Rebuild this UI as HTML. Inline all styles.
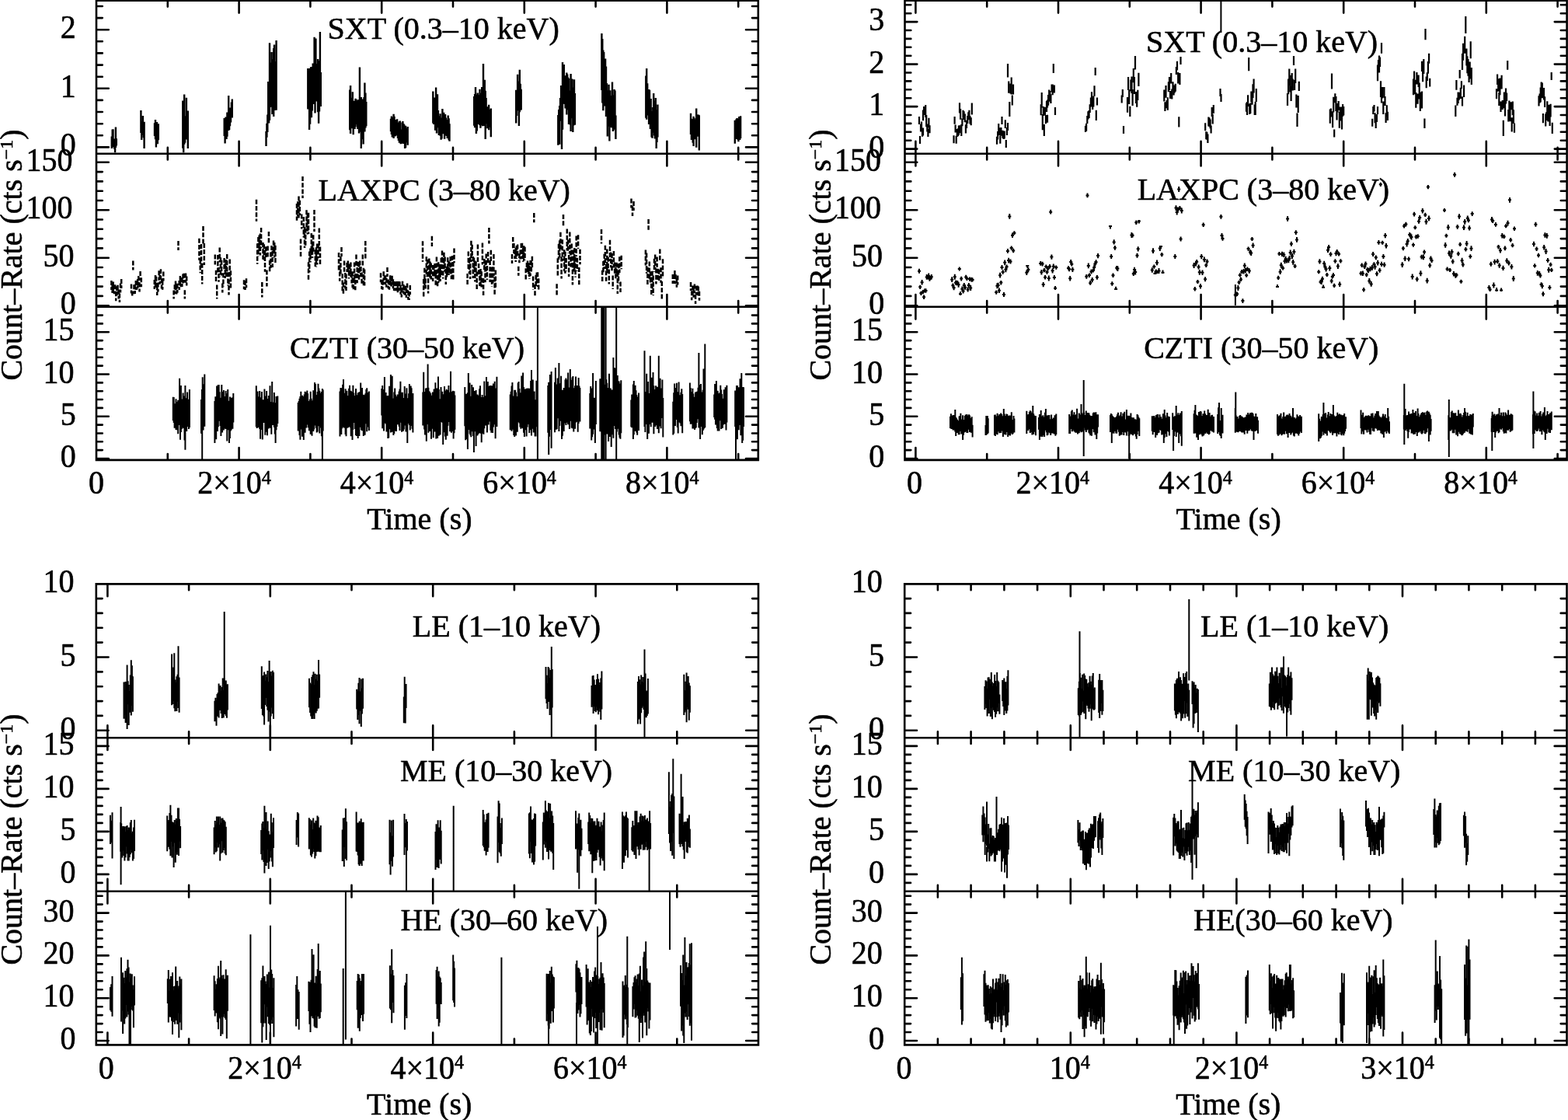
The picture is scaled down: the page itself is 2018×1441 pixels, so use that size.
<!DOCTYPE html>
<html><head><meta charset="utf-8"><title>Light curves</title>
<style>html,body{margin:0;padding:0;background:#fff;}svg{display:block;}</style>
</head><body>
<svg xmlns="http://www.w3.org/2000/svg" width="2018" height="1441" viewBox="0 0 2018 1441" font-family="Liberation Serif, Times New Roman, serif">
<rect width="2018" height="1441" fill="#fff"/>
<path d="M143.8 175.5V191M144.7 166.5V189.2M145.5 166.3V189.2M146.4 179.6V189.5M147.2 178.5V191.7M148.1 180.1V196.3M148.9 163.6V189.9M149.8 178.2V187.5M181.4 141.9V170.9M182.2 157.4V180.1M183.1 156V171.1M183.9 148.9V173.9M184.8 157.9V177.2M185.6 156.8V191M199 158.3V175M200 154V179.2M200.9 157.7V189.6M201.9 157.1V173.7M202.8 161V185.3M203.8 159.3V180.3M235.3 129.5V190.8M236.2 146.4V196.3M237.2 121.4V185.7M238.1 160.8V183.8M239 149.2V172.4M239.9 125.7V179.4M240.9 156.7V178.3M241.8 142.5V190.9M288.7 152.1V174.9M289.6 153.3V184.5M290.5 150.5V177.6M291.5 154.1V179M292.4 144.4V175.8M293.3 147.3V167M294.2 123V168M295.1 142.7V167M296 138.4V162.3M297 138.5V157.5M297.9 131.6V149.2M298.8 127.5V151.6M342.5 169.1V188M343.4 158.8V176.7M344.3 147.4V169.9M345.2 105V156.6M346.1 124.3V158.6M347 116.9V154.8M347 55.3V120.5M347.9 80.5V138M348.7 82V137M349.6 67.1V128.3M350.4 76.3V147.1M351.3 89.1V128.5M352.2 61.9V150M353 57.4V127.6M353.9 79V141.9M354.7 80.5V134.3M355.6 52V141.7M396.3 88.1V140.4M397.2 92.7V135.4M398.1 88.1V167M399.1 96.5V159.7M400 86.3V124.3M400.9 86V151.2M401.8 90.3V142.5M402.7 81.4V126.9M403.6 87.9V133.9M404.6 47.7V119.7M405.5 80.2V145.5M406.4 49.6V120.5M407.3 84.7V130.4M408.2 82V122.2M409.1 75.9V144.2M410.1 110V158.7M411 78.2V143.6M411.9 41V133.2M412.8 93V137.1M450.2 115.5V167.2M451.1 110V172.1M452 127V165.3M452.9 125.8V165.2M453.8 118.2V164.7M454.7 138.2V173.3M455.6 129.8V154.1M456.6 133.7V166M457.5 126.8V163.3M458.4 127.7V157.5M459.3 129.5V160.3M460.2 137.6V165.9M461.1 128.2V161.8M462 140.4V171.6M462 130.1V158.6M462.9 86.6V169.7M463.9 134.4V166.2M464.8 125V191M465.7 134.4V166.7M466.6 127.5V179.3M467.6 136V185.4M468.5 124.9V165.3M469.4 106.5V169.5M470.4 119.6V164.6M471.3 131.1V162.2M503 152.8V169.2M503.9 149.6V173.1M504.8 156.7V176.4M505.7 151.1V171M506.6 146.7V177.9M507.5 149.7V170.6M508.4 154.1V175.4M509.3 153.9V174.8M510.2 156.1V171.2M511.1 153.3V173.7M512 157.7V177.9M512.9 158V180.9M513.9 156.3V183.7M514.8 155.5V181M515.7 168.3V185.2M516.6 166.6V185M517.5 157.6V183.8M518.4 155.9V179.7M519.3 159V185.1M520.2 160.2V180.3M521.1 164.1V191M522 161.8V190.2M522.9 164.7V182.6M523.8 166.2V183.4M524.7 162.9V186.7M557.3 117.4V158.4M558.2 128V160.1M559.2 125.6V158.6M560.1 129.4V167.7M561.1 112.4V158.9M562 133.7V171.6M563 121.2V151.3M563 147V163.1M563.9 141.9V164.2M564.8 149.3V174M565.7 153.6V170.1M566.6 146.2V174.7M567.6 151.4V179.7M568.5 152.5V178.5M569.4 140V164.3M570.3 155.5V172.3M571.2 144.7V159.8M572.1 156.8V178.7M573 147V174.6M573.9 151.5V170.5M574.9 155.3V175.1M575.8 153.9V177.9M576.7 148.6V173.9M577.6 152.2V180.2M578.5 159.3V181.7M610.2 124.1V161.8M611.1 121.1V164.2M612 112V151.3M612.9 121.7V172M613.8 128.7V168.4M614.7 119.4V152.6M615.6 125.4V160M616.6 122.3V152.7M617.5 114.8V161.1M618.4 119.8V164.8M619.3 134V161M620.2 112V155.1M621.1 116.5V162.3M622 129.6V161.8M622 82V160M622.9 105.2V162M623.8 102.7V159.9M624.7 116.7V179M625.6 126.1V151.8M626.5 137.3V159.2M627.3 137.3V165.3M628.2 139.2V160.5M629.1 134.8V167.3M630 142V163.8M630.9 140.9V163.7M631.8 139.6V176.2M664.2 115.8V158.6M665.1 123.4V148.9M666.1 95.7V142.5M667 104.5V133.9M667.9 113.6V162M668.8 89.7V144.3M669.8 107.8V141.7M670.7 114.8V141.6M718.3 147.9V186.8M719.2 140.9V172.4M720.2 135.9V185.8M721.1 126V155.7M722.1 110V154.7M723 114.8V192M724 124.6V166.7M724 80V140.5M724.9 95.3V132.8M725.8 83V133.6M726.7 97.9V133.9M727.6 102.5V139.4M728.4 97.1V135.3M729.3 93.5V147.5M730.2 95.5V141.6M731.1 99.6V139.6M732 101V160M732 115.5V152.8M732.9 116.4V156.2M733.8 116.7V160.5M734.6 95V169M735.5 115.5V152.3M736.4 101.6V142.9M737.3 127.6V170M738.1 112.6V161.5M739 102.3V158.2M739.9 120.1V160.7M774.4 43V116.1M775.3 50V132.5M776.3 64.5V142.3M777.2 67V136.5M778.1 91.3V136.6M779.1 75.6V116.6M780 85.4V150M780 90V146.7M780.9 107V149M781.8 116.2V175.4M782.7 123.7V162.8M783.5 108.8V160.8M784.4 129.4V181.5M785.3 116.2V161.6M786.2 127.6V163.8M787.1 123V164.2M788 105.6V156.1M788.9 122.3V169.1M789.7 132.4V167.4M790.6 115V166.1M791.5 116.4V158.4M792.4 148.5V178.9M831.3 97.5V151.8M832.2 88V153.8M833.2 107.2V148.5M834.1 117.7V144.8M835.1 115.1V160M836 115.7V153M836 136.3V159.3M836.9 140.4V166.1M837.7 126.9V154.7M838.6 143.2V176.6M839.5 143.4V177.7M840.3 138V170.8M841.2 120V168.8M842.1 144.4V174.5M842.9 129.4V178.6M843.8 126V161.8M844.7 151.9V190.9M845.5 141.2V183M846.4 134.6V176.4M889 145.8V172.9M889.9 152.7V179.9M890.8 153.3V174.9M891.7 154V183.7M892.6 149.8V188.1M893.5 151.7V175.1M894.4 156.9V179.2M895.3 153.6V171.2M896.2 139.4V189.7M897.1 147.2V170.2M898 155.7V175.8M898.9 147.4V169.6M899.8 148.3V193.4M945.8 154.7V184.7M946.7 155.6V177.1M947.6 153.2V178.9M948.5 152V170.1M949.5 152.4V179.7M950.4 160.3V182.2M951.3 150V172.9M952.2 153.1V179.9M953.1 149.2V177.9" stroke="#000" stroke-width="2.4" fill="none" stroke-linecap="butt"/>
<path d="M143.4 361V373M144.6 365V377M145.7 362.4V374.4M146.9 366.3V378.3M148.1 366.3V378.3M149.2 375.3V387.3M150.4 368.2V380.2M151.5 366.7V378.7M152.7 372.5V384.5M153.9 377.5V389M155 364.4V376.4M156.2 359V371M169 365.4V377.4M170.2 374.5V382.5M171.3 335.6V347.6M172.5 366.3V378.3M173.7 365.9V377.9M174.8 361.1V373.1M176 361V373M177.1 359V371M178.3 354.9V366.9M179.5 363.4V375.4M180.6 349V361M181.8 357.2V369.2M198.8 360.1V372.1M200 354.1V368.3M201.1 355.8V370.1M202.2 367.4V380M203.4 363.5V375.5M204.6 348.3V360.8M205.7 353.8V365.8M206.9 346.2V359.7M208 358.2V371.6M209.2 360.7V372.7M210.3 349.5V361.5M223.6 373.6V384.6M224.8 366.3V378.3M226 361.6V373.6M227.2 366.4V378.4M228.3 364.7V376.7M229.5 310V322M230.7 361V373M231.9 355.1V367.8M233.1 357.2V369.2M234.3 356.9V369.1M235.5 352.6V364.6M236.6 351.7V363.7M237.8 373.2V384.6M239 351.6V363.8M240.2 355.4V367.4M256.4 306.8V334.8M257.7 333.4V351.3M259 313.9V341.9M260.2 338.7V365.5M261.5 291V314.5M262.8 312.9V340.9M276.8 327.4V340.4M278 347.7V362.2M279.2 366.4V384.6M280.3 328V350.5M281.5 343.9V362.8M282.7 318.6V337.5M283.9 331.2V356.3M285.1 334.8V354.6M286.3 364.5V376.5M287.4 351.3V368.6M288.6 332.1V346.3M289.8 338.7V358M291 333.9V356M292.2 327.1V353.2M293.4 350.2V367.6M294.5 359.4V379.6M295.7 333.6V356.5M296.9 348.2V370.4M314 360.2V372.2M315.5 361V373M317 358.3V370.3M330 256.8V284.8M331.2 313.3V339.7M332.4 304.9V330M333.7 302.5V323.2M334.9 300.5V328.5M336.1 293.1V319.3M337.3 363V382.5M338.5 312.1V333.8M339.8 314.3V334.6M341 321.7V349.7M342.2 317.2V331.1M343.4 347.5V368.6M344.6 316.6V330.6M345.9 298V313.8M347.1 335.1V350.5M348.3 324.5V345.1M349.5 316.1V336.4M350.7 322.8V344.1M352 309.4V324.4M353.2 312.1V331.5M354.4 315.7V338.5M382 262V283.8M383.2 259.2V278.2M384.5 252.4V280.4M385.8 257.8V277.1M387 307.6V330M388.2 275.6V294.4M389.5 227V255M390.8 279.1V305.4M392 292V319.1M393.2 293.7V315.8M394.5 270.2V297.4M395.8 275V301.4M397 273.8V301.1M397 337.3V361M398.2 323.4V350.4M399.5 319.6V337.4M400.8 300V328M402 313.5V332M403.2 302.2V323.8M404.5 270V298M405.8 321.2V342.9M407 318.2V343.4M408.2 313.4V340.6M409.5 313.4V332.2M410.8 293.6V321.6M412 317.6V341.3M436 325.1V347.6M437.2 341.3V361.8M438.4 330V353.2M439.5 317.9V329.9M440.7 352.2V374.3M441.9 363.5V378M443.1 335.5V349.9M444.3 351.1V371.4M445.5 352.5V373.9M446.6 338V350M447.8 335.6V349.9M449 340.5V358.5M450.2 339.4V354.6M451.4 337.4V356.2M452.6 351.5V364.5M453.7 349.3V370.3M454.9 358V373.6M456.1 337.4V360.8M457.3 351.9V373.3M458.5 327.5V343.2M459.7 343.9V364.3M460.8 336.7V356.6M462 337.4V360M463.2 335.5V350.4M464.4 342.9V356.3M465.6 350.6V365.4M466.8 327.4V342.3M467.9 344.8V368.7M469.1 346.4V367.4M470.3 310V333.3M490 351.2V363.2M491.2 359.8V372.1M492.4 360.8V372.8M493.7 349.3V361.3M494.9 354.2V366.2M496.1 354.3V366.3M497.3 357.7V369.7M498.5 344V356M499.8 359.6V371.6M501 360.8V372.8M502.2 354.2V366.2M503.4 356.5V368.5M504.6 354.8V366.8M505.9 359.3V371.3M507.1 362V374M508.3 362.2V374.2M509.5 362.2V374.2M510.7 361.9V373.9M511.9 364.2V376.2M513.2 362.1V374.1M514.4 362.3V374.3M515.6 366.8V378.8M516.8 370.4V382.4M518 361.7V373.7M519.3 366V378M520.5 367.4V379.4M521.7 367.7V379.7M522.9 371V383M524.1 364.5V376.5M525.4 373.7V385.7M526.6 375.6V386M527.8 367.1V379.1M544 310.3V336.7M545.2 359V382.5M546.4 344.7V369.4M547.6 358.4V371.6M548.8 330.3V355.4M550 333.8V357.4M551.1 350V377.6M552.3 332.6V352.9M553.5 336.4V357.4M554.7 338.6V359.6M555.9 303.7V316.9M557.1 341.1V361.9M558.3 341.2V356.3M559.5 339V355.3M560.7 352.6V369M561.9 330.4V357.6M563.1 354.1V369.7M564.2 337.3V363.9M565.4 339.8V364.4M566.6 342.6V361.9M567.8 331.7V354.5M569 322.5V337.9M570.2 332.1V358.5M571.4 324.7V346.2M572.6 330.5V349.8M573.8 346.1V366M575 342.7V356.4M576.2 331.2V354.2M577.4 335.4V354M578.5 336.8V351.1M579.7 330V352.7M580.9 346.2V359.2M582.1 328.9V354.7M583.3 337.1V361.7M584.5 319.5V338.3M601.6 351.9V366.9M602.8 323.5V347.8M604 332.8V352.3M605.2 331.1V359.1M606.4 309.7V336.9M607.6 314.7V331.9M608.8 330.1V358.1M610 331.4V350.6M611.3 335.6V362.6M612.5 336.4V352.1M613.7 349.5V372.5M614.9 314.5V338.3M616.1 339.1V355.7M617.3 347V367.9M618.5 345.9V368.5M619.7 349.3V369.5M620.9 312.4V340.4M622.1 358V380M623.3 333V349.8M624.5 335.2V363.2M625.7 326.6V354.6M626.9 342.1V360M628.1 324V340.4M629.4 293V313.5M630.6 335V363M631.8 321.7V336M633 343.4V368.6M634.2 343.3V364.5M635.4 327V355M636.6 356.4V380M637.8 347.4V372M659 326.9V338.9M660.2 305.1V320.1M661.4 313.1V326M662.5 321.1V333.1M663.7 318.4V337M664.9 315.9V333M666.1 314.6V331.1M667.3 342.8V354.8M668.4 326.3V338.3M669.6 321.5V333.5M670.8 313V325.3M672 312.8V333.2M673.2 319.1V336.7M674.3 316.2V335.6M675.5 317.8V334.8M676.7 345.3V359.7M677.9 338.1V350.1M679 335.5V350.1M680.2 338.2V355.2M681.4 341.8V358.9M682.6 335V354.9M683.8 335.3V351.4M684.9 329.7V346M686.1 355.5V372.5M687.3 274V286.2M688.5 366V382.5M689.7 353.7V369.7M690.8 350.5V363.8M692 350.3V368.9M693.2 358.3V372.4M716.6 365.3V380M717.8 332.2V356.1M719 313.8V334.1M720.2 309.2V331.7M721.4 298.7V322M722.6 330.6V358.6M723.8 308.2V335.7M725 276V291.9M726.2 321.2V349.2M727.4 323.7V351.7M728.6 331.9V348.9M729.8 294.5V322.4M731 308.5V325.5M732.1 328V356M733.3 298.4V326.4M734.5 322.5V343.4M735.7 313.4V341.4M736.9 338.5V366.5M738.1 321.4V349.4M739.3 319.1V347.1M740.5 330.8V356.8M741.7 303.6V330.1M742.9 331.8V348.9M744.1 302.3V319.9M745.3 344V366.3M746.5 320.7V340.3M774 295V313.5M775.2 347.8V364.1M776.4 336V350.8M777.7 326.7V346.1M778.9 315.8V340.3M780.1 340.1V361.7M781.3 320.5V348M782.6 330.7V351.6M783.8 346.5V365.4M785 308.7V335.9M786.2 324.6V344.3M787.5 325.9V350.3M788.7 354.4V371.9M789.9 323V344.5M791.1 337.5V353.9M792.4 344V358.4M793.6 337.7V355.6M794.8 350V378M796 339.2V364.6M797.3 330.2V351M798.5 362.6V375.9M799.7 328.7V346.2M812.5 255.5V267.5M814 265.2V278M815.5 259V271M830.9 321.4V341.6M832.1 325.5V351.8M833.4 343.7V366.9M834.6 282V295.8M835.8 336.4V359M837 349.2V363.8M838.3 356.5V379.8M839.5 348.8V374.7M840.7 354.6V380.2M842 332.7V349.8M843.2 327.6V346.4M844.4 345.5V365.4M845.6 330.5V343.8M846.9 345.7V360.6M848.1 346.8V362.7M849.3 320.6V334.9M850.5 344.2V363.8M851.8 362V384.6M853 333.2V357.9M865.8 353V365M867.1 352.9V364.9M868.4 348V356.2M869.6 353.2V365.2M870.9 357.8V369.8M872.2 354.5V366.5M889 363V373.9M890.2 374.3V386.3M891.4 367.5V379.5M892.7 370.8V382.8M893.9 365.5V377.5M895.1 379V391M896.3 367.8V379.8M897.6 367.4V379.4M898.8 368.6V380.6M900 374.7V386.7" stroke="#000" stroke-width="2.5" fill="none" stroke-linecap="butt" stroke-dasharray="6 2.2" stroke-linejoin="round"/>
<path d="M222.8 510.7V541.2M223.7 511.1V544M224.6 520.4V550.7M225.6 519.2V548.1M226.5 513.2V552.9M227.4 518.6V553.3M228.3 516.9V545.3M229.2 514.8V558.3M230.1 515.1V546.7M231.1 486.8V547.1M232 506.2V565.8M232.9 496V556M233.8 518.4V551.9M234.7 513.6V547.2M235.6 505.5V550.5M236.6 514.4V551.2M237.5 509.5V566.5M238.4 496.1V578.7M239.3 514V554.4M240.2 512.2V555M241.1 504.6V544.6M242.1 513.7V549M243 519.3V552M243.9 500.9V550.1M259 514V557.7M259.9 500.9V546.6M260.7 485.2V547.2M261.6 494.2V553.5M262.4 498.3V547.5M263.3 481.5V548.8M260.2 530V592M276.4 516V570M277.3 510.3V553.9M278.2 511.9V565.3M279.1 496.6V551.3M279.9 519.2V555M280.8 495V549.2M281.7 495V536.8M282.6 504.3V541.7M283.5 513.9V547.9M284.4 511.7V560.9M285.3 495V547M286.1 516.5V556.5M287 504V553.2M287.9 502V553.4M288.8 509.9V544.7M289.7 512.3V551.6M290.6 503.1V552.1M291.4 506.2V542.4M292.3 511.5V567.4M293.2 501.1V532.9M294.1 520.3V553.3M295 515.8V570M295.9 510.4V563.9M296.8 511.6V554.6M297.6 512.1V553.2M298.5 513.3V545M299.4 511.3V551.7M300.3 506.1V543.6M329.8 496.2V549.2M330.7 508.5V550.9M331.6 503.6V541.8M332.5 518.4V550.1M333.3 510.2V538.6M334.2 502.9V552M335.1 511.2V564.8M336 511.9V552.9M336.9 503.9V543.4M337.8 515.4V565.4M338.7 514.2V544M339.6 514.2V543.9M340.4 500.6V543.2M341.3 515.4V559.8M342.2 509.6V555.8M343.1 502.9V552.5M344 513.6V560.2M344.9 512.9V550.4M345.8 509.1V551.5M346.7 515.5V548.7M347.5 496.3V550.2M348.4 517V551.1M349.3 518.9V558.8M350.2 491V537.4M351.1 518.2V547M352 517.5V546.5M352.9 504.9V549.8M353.8 519.4V558.5M354.6 518.2V570M355.5 510V553.3M356.4 510.5V549.1M357.3 509.6V545M383.7 518V554.5M384.6 515.9V550.3M385.5 512.8V559.9M386.4 510V565.7M387.3 503.8V550M388.1 510.9V552.4M389 508.7V561.8M389.9 511V542.9M390.8 509.9V566M391.7 507.4V554.4M392.6 503.7V556.8M393.5 504.8V545.7M394.4 507.6V550.5M395.3 502.4V546.4M396.1 506.2V542.9M397 517.7V550.3M397.9 515.9V554.3M398.8 513.8V551.1M399.7 503.7V558.8M400.6 512.8V549.6M401.5 515.2V560.8M402.4 519.9V554.3M403.3 502.3V555M404.1 504.4V552.5M405 491.9V546.5M405.9 493.9V547.4M406.8 508.1V550.7M407.7 508V556.6M408.6 503.9V555.4M409.5 493.8V548.2M410.4 499.6V543.5M411.3 502.8V557.5M412.1 505.8V545.3M413 515.7V550.5M413.9 503.9V561.2M414.8 517.3V566M415.7 501.4V554.6M414.9 500V592M437.5 503.5V561.4M438.4 499V558.6M439.3 499.2V558.9M440.2 500.6V551.2M441.1 494.8V549.5M442 488V543.4M442.8 516.4V550.4M443.7 505.7V548M444.6 500.2V558.9M445.5 506.6V561.2M446.4 502.8V550.9M447.3 509.1V549M448.2 509.9V550.2M449.1 499.8V548.9M450 495.8V545M450.9 504V550.2M451.7 502.7V561.2M452.6 503.9V542.5M453.5 507.7V566M454.4 495.7V552.7M455.3 505.6V543.5M456.2 508.9V544M457.1 517V551.9M458 500.1V559.9M458.9 515.2V561M459.8 508.2V554M460.7 505.5V563.9M461.5 504.8V556.8M462.4 515V561M463.3 504V549.8M464.2 492.4V542.4M465.1 499V553.3M466 499.1V554.3M466.9 513.6V551.3M467.8 507.8V560.9M468.7 509.1V557.6M469.6 508.3V559.7M470.4 506.3V545.3M471.3 501V542.8M472.2 499.2V555.3M473.1 516.4V549.6M474 505V540.8M474.9 503.6V554.1M491.3 500V534.4M492.2 495.9V551.2M493.1 516.8V548.9M494 501V554.6M494.9 485V544.4M495.8 510.2V543.8M496.6 504.9V545.4M497.5 509.3V555.4M498.4 511.8V553.4M499.3 508.9V563.9M500.2 513.3V563.5M501.1 496.7V540.5M502 496.7V552.3M502.9 482V556.6M503.8 498.2V547.3M504.7 483.8V555.7M505.6 513.2V545.1M506.4 512.5V560M507.3 504.4V557.9M508.2 499.6V554.6M509.1 507.8V541.9M510 520.6V554.9M510.9 509.9V542M511.8 507.6V546.2M512.7 509.1V542.5M513.6 503.4V548.7M514.5 500.5V554M515.4 490.8V542M516.3 504.7V543.8M517.1 507V555.8M518 504.7V552M518.9 514.5V554.7M519.8 512.1V552.4M520.7 497V547.4M521.6 506.6V540M522.5 512.2V555.4M523.4 499.2V542.6M524.3 514.1V570M525.2 512.2V544.9M526.1 506.3V537.1M526.9 494.1V547.1M527.8 498.8V553.5M528.7 496.4V547.9M529.6 499.2V545.3M530.5 507V551.7M531.4 506.1V556.5M544.3 504.4V547.5M545.2 478.8V538.3M546.1 503.9V552.4M547 509.8V559.4M547.9 499.4V547.3M548.8 510.6V567.8M549.7 498.9V545.8M550.6 468.5V546.1M551.4 498.8V556.8M552.3 503.3V552.7M553.2 504.2V555M554.1 506V546.5M555 512.4V564.7M555.9 508.8V551.7M556.8 504.5V550.4M557.7 506.3V563.3M558.6 500.4V550.8M559.5 512.9V555.5M560.4 492.3V534.5M561.3 519.8V564.6M562.2 499.5V558.8M563.1 505.4V564M564 484.5V532.9M564.8 501.1V560.8M565.7 513.3V554.5M566.6 524V559.5M567.5 498V543.1M568.4 509V542.8M569.3 503.8V543.7M570.2 507.3V572M571.1 510.1V549.2M572 497.1V556.3M572.9 502.6V561.6M573.8 507.7V565.7M574.7 500.7V547.9M575.6 502.1V560.8M576.5 504.8V547.8M577.4 496.1V540.7M578.3 504.8V543.1M579.1 509.4V555.3M580 477.8V543.4M580.9 507.7V556.7M581.8 503.9V555.1M582.7 502.7V546.7M583.6 507.4V564.4M584.5 503.3V557.2M585.4 508.5V552.7M598.3 498.1V548.2M599.2 507.9V566.2M600.1 506.8V547.8M601 509.9V564.9M601.9 505.3V577.9M602.8 480V547.8M603.7 504.6V553.1M604.6 492.4V558.3M605.4 521.5V560M606.3 509.8V562.2M607.2 495.1V539.9M608.1 505V555.3M609 498.2V561.1M609.9 504.5V582M610.8 503V555.3M611.7 508.4V553.9M612.6 502.1V574M613.5 509.2V545.7M614.4 507.5V560.4M615.3 508.7V558.7M616.2 518.4V557.6M617.1 500.2V557.3M618 496.2V535.4M618.8 511V557.8M619.7 514.7V569.3M620.6 507.9V554.2M621.5 510.9V557.8M622.4 518.8V558.8M623.3 490.5V551.2M624.2 509.2V547.3M625.1 509.4V547.5M626 485V541.5M626.9 494.3V556.4M627.8 490.9V541.1M628.7 497V546.4M629.6 499.9V540.1M630.5 495.9V542.5M631.4 495.9V553.8M632.3 509.2V556.7M633.1 496.2V547.6M634 496.2V557M634.9 493.5V549.4M635.8 505.3V543.6M636.7 490.8V546.3M637.6 502.9V564.2M638.5 499.4V540M639.4 484.7V549.1M656.7 507.6V553.2M657.6 503.8V546.6M658.5 496.5V554.7M659.4 492V533.2M660.3 512.1V552.8M661.3 509.5V559.9M662.2 501.7V562M663.1 501.8V544.1M664 504.8V560.5M664.9 510V547.8M665.8 519.3V555.7M666.7 492.6V539.1M667.6 490.9V543.3M668.5 500V544.4M669.4 505.3V549.6M670.4 506.8V551.8M671.3 483.6V550.6M672.2 491.8V545.6M673.1 479.5V551.2M674 498V556.8M674.9 500.9V562M675.8 500.6V553.3M676.7 500.4V543.3M677.6 499.7V561.6M678.6 509.1V549.6M679.5 499.5V546.1M680.4 504.7V543.5M681.3 499.7V557.1M682.2 501V553.3M683.1 490V551.5M684 476V560.4M684.9 501.8V543.3M685.8 488.4V551.7M686.7 518V556.4M687.7 503.4V552.4M688.6 514.3V561.6M689.5 517.3V561.6M690.4 489.7V545.2M691.3 510.7V549.2M691.9 395V592M705.3 495.9V556.7M706.2 491.7V585M707 496.3V561.7M707.9 482V533M708.7 501.3V552.9M709.6 478V576.8M714 491.7V556.3M714.9 473.1V548.6M715.8 496.6V552.8M716.7 494.5V552.1M717.6 486.6V537.5M718.5 493.4V538.3M719.4 467V555.1M720.3 505.6V547.8M721.2 493.3V541.7M722.1 483.7V540.2M723 512V565M723.9 501.7V560.8M724.8 503V549.5M725.7 498.9V554.9M726.6 501.8V544.5M727.5 488.4V544M728.4 486.5V546.9M729.3 488.6V543.8M730.2 488.6V526.9M731.1 479.6V546.3M732 499.8V540.5M732.9 498.5V552.1M733.8 474.9V541.8M734.7 488.8V526.8M735.6 502.1V550.6M736.5 485.6V551.3M737.4 484.1V550.8M738.3 499.2V555.6M739.2 500.6V543.8M740.1 496.2V551.7M741 484.4V543.6M741.9 504.1V542.7M742.8 496.1V538M743.7 502.6V555.7M744.6 485.9V545.1M745.5 496.4V539.5M746.4 499V542.5M759.3 505.9V551.5M760.2 497V532.8M761.2 499.5V566.6M762.1 513.9V562.3M763.1 480V558.8M764 514.2V551.1M765 511.7V552.4M765.9 514.3V570M766.9 490V545.9M772.3 487.2V555.2M773.2 492.8V554.9M774.1 498.9V555.5M775 488.6V557.2M775.9 494.7V555.1M776.8 499.6V540.2M777.7 499.3V559.4M778.6 494.7V545.7M779.5 496.4V559M780.4 488.3V552.3M781.3 492.7V558.6M782.2 498.9V549.5M783.1 501.4V568M784 480.8V552.9M784.9 499.6V562M785.8 499.6V561.7M786.7 504.6V575M787.6 501.5V558.7M788.5 511.7V559.3M789.4 460V563.7M790.3 473V548.1M791.2 502V544.1M792.1 473.5V551.9M793 499V551.7M793.9 502V555.5M794.8 483.1V551.7M795.7 490.3V533.4M796.6 490.5V559.6M797.5 493.5V563.3M798.4 495V564.7M799.3 489.2V557.3M774.3 395V592M776.1 395V592M777.3 395V592M779.6 395V592M793.2 395V592M812.3 514.4V549.3M813.2 507.4V550.2M814.1 507.5V549.5M814.9 494.6V565M815.8 490V559.2M816.7 509.2V552.7M817.6 495.8V554.7M818.5 502.3V546.2M819.4 507.9V556.7M820.2 514.9V559.8M821.1 510.5V551.9M822 505.5V554.1M829.5 451.2V549.1M830.4 511.3V556.1M831.3 504V546M832.2 480.8V540.3M833.2 509.2V565M834.1 490.9V552.4M835 508.4V557.7M835.9 506V545.9M836.8 457.8V539M837.7 497.2V549.3M838.7 485.7V542.6M839.6 502.8V543.7M840.5 479.1V535.4M841.4 496.2V558.2M842.3 501V543.5M843.2 508.3V548.9M844.1 496.3V547.3M845.1 505.4V540.5M846 497.7V551.9M846.9 505.3V539.6M847.8 457.7V557.2M848.7 487V548.5M849.6 486.8V541.5M850.6 499.5V551.2M851.5 499.9V538.1M852.4 488.4V536.4M853.3 512V562.6M866.3 516.8V559.6M867.2 505.3V557.8M868.1 493.4V531.5M869 513V548M870 499.1V535.7M870.9 492.8V540M871.8 504.3V549.7M872.7 508.1V557.4M873.6 491.6V538M874.5 512.3V543.5M875.5 508.3V544.5M876.4 504.8V548.3M877.3 500.3V540.6M878.2 506.9V557.2M887.9 492.6V542.2M888.8 499.1V545.7M889.7 505.8V542.9M890.5 504.1V545.6M891.4 499.7V551.4M892.3 506.4V551.4M893.2 510.7V548.5M894.1 511.9V553M895 504.5V551.1M895.8 516.9V550.3M896.7 503.9V544M897.6 503.5V539.3M898.5 498.8V538.6M899.4 453.9V550.6M900.2 495.1V549.7M901.1 503.5V565M902 494.1V539.9M902.9 504.4V549.1M903.8 511.4V559.3M904.7 501.8V554M905.5 474.4V552.5M906.4 503.8V551M907.3 442.5V549.9M919.2 507.4V537.1M920.1 494.1V539.7M921 496.4V546.4M921.9 490V529.4M922.8 503.1V551M923.7 502.8V554.6M924.6 512.9V553.1M925.5 506.3V554.6M926.4 505.2V533.9M927.3 495.7V541.3M928.2 501.4V551.9M929.1 507.1V550.2M930 512.8V550.7M930.9 516.2V546.5M931.8 501.2V544.8M932.7 505.7V545.8M933.6 498.2V537.7M934.5 508.4V553.5M935.4 495.7V543.5M946.2 502.6V549.1M947.1 508.3V560M948 495.9V553.8M948.9 495.9V565.3M949.8 507.5V550M950.7 498.2V553.3M951.6 506.1V543.3M952.5 487.3V547.1M953.4 510.7V560.2M954.3 480V544.9M955.2 503.3V570M956.1 498.1V566.8M957 498.3V549M947 540V592" stroke="#000" stroke-width="2.0" fill="none" stroke-linecap="butt"/>
<path d="M1183 150V160M1182 155h2M1184 175V185M1183 180h2M1185 159.5V169.5M1184 164.5h2M1186 156.4V166.4M1185 161.4h2M1187 165.6V175.7M1186 170.6h2M1188 164.5V174.5M1187 169.5h2M1188 141.5V155.2M1187 148.4h2M1189.1 137V147M1188.1 142h2M1190.1 138.1V148.1M1189.1 143.1h2M1191.2 135V151.1M1190.2 143.1h2M1192.2 148V163.2M1191.2 155.6h2M1193.3 159.6V169.6M1192.3 164.6h2M1194.4 165.5V176M1193.4 170.8h2M1195.4 151.7V164.6M1194.4 158.1h2M1196.5 161.3V171.3M1195.5 166.3h2M1227.5 174.2V184.2M1226.5 179.2h2M1228.6 150V159.8M1227.6 154.9h2M1229.6 160.5V170.5M1228.6 165.5h2M1230.7 174.7V184.7M1229.7 179.7h2M1231.8 166V176M1230.8 171h2M1232.9 165.3V175.3M1231.9 170.3h2M1233.9 161.5V173.8M1232.9 167.6h2M1235 161.2V171.2M1234 166.2h2M1235 132.3V145.4M1234 138.9h2M1236.1 140V153.7M1235.1 146.9h2M1237.3 159.9V175M1236.3 167.5h2M1238.4 152.2V162.2M1237.4 157.2h2M1239.5 141.7V151.7M1238.5 146.7h2M1240.6 143.2V154.1M1239.6 148.7h2M1241.8 146.4V157.2M1240.8 151.8h2M1242.9 160.3V171.6M1241.9 165.9h2M1244 154.7V165M1243 159.8h2M1245.2 149.1V159.1M1244.2 154.1h2M1246.3 144.2V154.2M1245.3 149.2h2M1247.4 141.7V151.7M1246.4 146.7h2M1248.5 149.3V159.6M1247.5 154.5h2M1249.7 151.3V161.3M1248.7 156.3h2M1250.8 132.6V147.6M1249.8 140.1h2M1283 175.7V185.7M1282 180.7h2M1284.1 169V179.6M1283.1 174.3h2M1285.2 159V169M1284.2 164h2M1286.2 164.3V174.3M1285.2 169.3h2M1287.3 174.7V184.7M1286.3 179.7h2M1288.4 164.1V174.8M1287.4 169.4h2M1289.5 150V160M1288.5 155h2M1290.5 167.7V177.7M1289.5 172.7h2M1291.6 169.1V179.1M1290.6 174.1h2M1292.7 168.4V178.4M1291.7 173.4h2M1293.8 154.3V165.1M1292.8 159.7h2M1294.8 180V190M1293.8 185h2M1295.9 164V174M1294.9 169h2M1297 158.1V168.1M1296 163.1h2M1297 82V99.5M1296 90.7h2M1298.2 104.4V119.8M1297.2 112.1h2M1299.3 131.1V150M1298.3 140.5h2M1300.5 107.6V120.5M1299.5 114.1h2M1301.7 99.4V121.4M1300.7 110.4h2M1302.8 122.4V135.4M1301.8 128.9h2M1304 108.4V121.4M1303 114.9h2M1339.7 134.3V148.3M1338.7 141.3h2M1340.7 119V138.4M1339.7 128.7h2M1341.8 147V167.2M1340.8 157.1h2M1342.8 136.9V148.9M1341.8 142.9h2M1343.8 159.9V175M1342.8 167.4h2M1344.9 137.7V148.6M1343.9 143.1h2M1345.9 147.9V159.2M1344.9 153.6h2M1347 129.7V144.1M1346 136.9h2M1348 147.8V157.8M1347 152.8h2M1348 128.5V138.5M1347 133.5h2M1349.1 122.1V135.7M1348.1 128.9h2M1350.2 115.6V130.8M1349.2 123.2h2M1351.3 117V127M1350.3 122h2M1352.4 121.3V133M1351.4 127.2h2M1353.6 108.5V118.5M1352.6 113.5h2M1354.7 108.4V122.2M1353.7 115.3h2M1355.8 82V94M1354.8 88h2M1356.9 109.4V119.6M1355.9 114.5h2M1358 138V148M1357 143h2M1397 161.7V170M1396 166.7h2M1398.1 158.7V168.7M1397.1 163.7h2M1399.3 149V159M1398.3 154h2M1400.4 143.3V153.5M1399.4 148.4h2M1401.6 141.9V151.9M1400.6 146.9h2M1402.7 134.3V145M1401.7 139.7h2M1403.9 125.5V137.4M1402.9 131.5h2M1405 126.9V136.9M1404 131.9h2M1405 118.3V130M1404 124.2h2M1406.2 126.1V140.9M1405.2 133.5h2M1407.3 123.4V137.5M1406.3 130.5h2M1408.5 110.3V123.7M1407.5 117h2M1409.7 87V97M1408.7 92h2M1410.8 141.7V155M1409.8 148.4h2M1412 125.4V135.4M1411 130.4h2M1443.7 122.4V132.4M1442.7 127.4h2M1444.8 115V125M1443.8 120h2M1446 162V172M1445 167h2M1451 125.1V144.7M1450 134.9h2M1452.1 98.9V116M1451.1 107.5h2M1453.2 115.2V134.1M1452.2 124.6h2M1454.3 136.8V150M1453.3 143.4h2M1455.4 102.6V117.4M1454.4 110h2M1456.5 98.6V119.9M1455.5 109.2h2M1457.6 115.1V136.1M1456.6 125.6h2M1458.8 87.9V106.2M1457.8 97.1h2M1459.9 99V121M1458.9 110h2M1461 72V89.6M1460 80.8h2M1462.1 118V133M1461.1 125.5h2M1463.2 121.4V137.7M1462.2 129.5h2M1464.3 115.7V129M1463.3 122.4h2M1465.4 93.7V111M1464.4 102.4h2M1498.3 115.4V130.6M1497.3 123h2M1499.4 131.3V143.1M1498.4 137.2h2M1500.5 109.9V125.7M1499.5 117.8h2M1501.6 128.9V139.3M1500.6 134.1h2M1502.8 125.2V141.8M1501.8 133.5h2M1503.9 105.3V118.3M1502.9 111.8h2M1505 99.1V116.1M1504 107.6h2M1506.1 117V127M1505.1 122h2M1507.2 94V107.4M1506.2 100.7h2M1508.3 114.5V127.6M1507.3 121.1h2M1509.5 105.2V115.2M1508.5 110.2h2M1510.6 112.4V122.5M1509.6 117.5h2M1511.7 109.5V119.5M1510.7 114.5h2M1512.8 107.7V117.7M1511.8 112.7h2M1513.9 86.1V96.1M1512.9 91.1h2M1515 78.7V90.2M1514 84.5h2M1516.2 93V107.6M1515.2 100.3h2M1517.3 150.3V163.6M1516.3 157h2M1518.4 94.1V109M1517.4 101.5h2M1519.5 73.1V83.1M1518.5 78.1h2M1551.2 158.2V168.2M1550.2 163.2h2M1552.3 169.3V179.3M1551.3 174.3h2M1553.3 169.8V179.8M1552.3 174.8h2M1554.4 172.6V184M1553.4 178.3h2M1555.4 150.5V162.5M1554.4 156.5h2M1556.5 151.5V163M1555.5 157.2h2M1557.6 153.5V165.2M1556.6 159.3h2M1558.6 161.5V171.5M1557.6 166.5h2M1559.7 137.9V149.9M1558.7 143.9h2M1560.7 147V159.4M1559.7 153.2h2M1561.8 135V146.1M1560.8 140.5h2M1570.5 114V124M1569.5 119h2M1571.5 121V131M1570.5 126h2M1604 132.4V143.8M1603 138.1h2M1605.1 131V148M1604.1 140.5h2M1606.1 122.2V137M1605.1 129.6h2M1607.2 74V91.3M1606.2 82.6h2M1608.3 133.4V147M1607.3 140.2h2M1609.3 132.6V145.9M1608.3 139.2h2M1610.4 117.6V131.5M1609.4 124.6h2M1611.5 124.8V134.8M1610.5 129.8h2M1612.5 108.3V126M1611.5 117.2h2M1613.6 101.4V119.5M1612.6 110.5h2M1614.7 134.4V148M1613.7 141.2h2M1615.7 130.7V148M1614.7 139.8h2M1616.8 114V131M1615.8 122.5h2M1657 119.9V136M1656 127.9h2M1658.1 101.5V121.2M1657.1 111.4h2M1659.3 88.6V110M1658.3 99.3h2M1660.4 96.8V118.4M1659.4 107.6h2M1661.6 111V129.9M1660.6 120.5h2M1662.7 94.1V111M1661.7 102.6h2M1663.8 101.5V116.5M1662.8 109h2M1665 72V84M1664 78h2M1666.1 102.8V116.1M1665.1 109.5h2M1667.2 88.6V107.1M1666.2 97.9h2M1668.4 121.6V138.6M1667.4 130.1h2M1669.5 145.6V163M1668.5 154.3h2M1670.7 123V145M1669.7 134h2M1671.8 104.8V116.9M1670.8 110.8h2M1711.8 140.4V158.7M1710.8 149.6h2M1712.9 139.6V150.6M1711.9 145.1h2M1714 94.5V114.6M1713 104.6h2M1715.1 143.2V164.3M1714.1 153.8h2M1716.2 124.7V144.6M1715.2 134.6h2M1717.2 166.5V176.5M1716.2 171.5h2M1718.3 120.2V132.3M1717.3 126.3h2M1719.4 123.9V142.9M1718.4 133.4h2M1720.5 134.3V154.4M1719.5 144.4h2M1721.6 133V144.4M1720.6 138.7h2M1722.7 129.9V141.8M1721.7 135.9h2M1723.8 143.9V164.7M1722.8 154.3h2M1724.8 137.6V153.9M1723.8 145.8h2M1725.9 137.5V155.4M1724.9 146.4h2M1727 147V166.5M1726 156.7h2M1728.1 134.1V149.7M1727.1 141.9h2M1729.2 136.9V148.4M1728.2 142.7h2M1766.2 152.7V162.7M1765.2 157.7h2M1767.3 137.1V147.1M1766.3 142.1h2M1768.5 135V143.6M1767.5 138.6h2M1769.6 145.3V158.2M1768.6 151.7h2M1770.7 155V165M1769.7 160h2M1771.9 147.1V157.1M1770.9 152.1h2M1773 136.9V146.9M1772 141.9h2M1773 83.4V104.2M1772 93.8h2M1774 76.9V93.6M1773 85.2h2M1775 71.4V93.4M1774 82.4h2M1776 73.5V85.9M1775 79.7h2M1777 104.2V125M1776 114.6h2M1778 55V68.7M1777 61.9h2M1778 117.1V132.4M1777 124.7h2M1779.1 112V126.4M1778.1 118.1h2M1780.3 130.4V147.1M1779.3 138.7h2M1781.4 112V125.8M1780.4 118.1h2M1782.5 124V135.9M1781.5 130h2M1783.6 145.3V158M1782.6 152.9h2M1784.8 135.2V150.1M1783.8 142.6h2M1785.9 143.8V154.9M1784.9 149.4h2M1819 101.5V122.2M1818 111.9h2M1820.1 91.6V104.6M1819.1 98.1h2M1821.2 102.8V121.2M1820.2 112h2M1822.3 119V138.8M1821.3 128.9h2M1823.4 93.1V108.6M1822.4 100.8h2M1824.5 120.5V133.8M1823.5 127.2h2M1825.6 96.5V111.9M1824.6 104.2h2M1826.7 106.5V127.4M1825.7 117h2M1827.8 126V143M1826.8 134.5h2M1828.9 118.4V138.4M1827.9 128.4h2M1830 117.4V139.4M1829 128.4h2M1830 78.7V92.1M1829 85.4h2M1831.1 84.8V105.3M1830.1 95.1h2M1832.3 76V95M1831.3 85.5h2M1833.4 152.5V165M1832.4 158.8h2M1834.5 37V51.3M1833.5 44.2h2M1835.7 98.6V113.2M1834.7 105.9h2M1836.8 93.3V104M1835.8 98.7h2M1837.9 78.9V94.8M1836.9 86.8h2M1839.1 68.8V81.8M1838.1 75.3h2M1840.2 100.7V111.5M1839.2 106.1h2M1873.3 135.4V150M1872.3 142.7h2M1874.4 103.1V115.8M1873.4 109.4h2M1875.5 125.8V135.8M1874.5 130.8h2M1876.6 118.5V133.1M1875.6 125.8h2M1877.7 118.7V128.7M1876.7 123.7h2M1878.7 90V100.7M1877.7 95.4h2M1879.8 112.7V127.1M1878.8 119.9h2M1880.9 104.2V114.2M1879.9 109.2h2M1882 124.2V136.4M1881 130.3h2M1882 68.7V90.1M1881 79.4h2M1883.1 55.8V77.8M1882.1 66.8h2M1884.1 109.5V125M1883.1 117.2h2M1885.2 46.8V68.8M1884.2 57.8h2M1886.3 21V43M1885.3 32h2M1887.4 62.4V84.4M1886.4 73.4h2M1888.4 72.2V94.2M1887.4 83.2h2M1889.5 76.1V97.8M1888.5 86.9h2M1890.6 83.9V105.9M1889.6 94.9h2M1891.7 79.5V101.5M1890.7 90.5h2M1892.7 53.3V75.3M1891.7 64.3h2M1893.8 86.9V108.9M1892.8 97.9h2M1926 114.2V127.2M1925 120.7h2M1927.1 95.6V109M1926.1 102.3h2M1928.2 101.2V117.8M1927.2 109.5h2M1929.3 119V135.9M1928.3 127.4h2M1930.4 100.5V122.3M1929.4 111.4h2M1931.5 130.5V143.9M1930.5 137.2h2M1932.6 96.8V114.6M1931.6 105.7h2M1933.7 129V140.9M1932.7 134.9h2M1934.8 154.7V175M1933.8 164.9h2M1935.9 118.4V139.2M1934.9 128.8h2M1937 132.9V149.4M1936 141.2h2M1938 113.5V133.6M1937 123.5h2M1939.1 119.6V130.1M1938.1 124.8h2M1940.2 78V89.7M1939.2 83.9h2M1941.3 141V156.4M1940.3 148.7h2M1942.4 129.4V147.4M1941.4 138.4h2M1943.5 140V156.2M1942.5 148.1h2M1944.6 131.3V141.3M1943.6 136.3h2M1945.7 151.3V169.4M1944.7 160.3h2M1946.8 130.5V148M1945.8 139.3h2M1947.9 141.3V159.1M1946.9 150.2h2M1949 158.6V170.8M1948 164.7h2M1980.5 123.3V136.4M1979.5 129.9h2M1981.6 120.4V132.5M1980.6 126.5h2M1982.7 112.5V131.5M1981.7 122h2M1983.7 105.5V121.5M1982.7 113.5h2M1984.8 106.5V126.2M1983.8 116.4h2M1985.9 146V158.3M1984.9 152.2h2M1987 112.9V128.4M1986 120.6h2M1988.1 124.2V137.9M1987.1 131h2M1989.2 146.5V162.6M1988.2 154.5h2M1990.2 144.3V154.9M1989.2 149.6h2M1991.3 130.2V148.2M1990.3 139.2h2M1992.4 146.5V156.5M1991.4 151.5h2M1993.5 134.8V150.9M1992.5 142.8h2M1994.6 147.5V161.9M1993.6 154.7h2M1995.6 133.7V150.6M1994.6 142.1h2M1996.7 93V103M1995.7 98h2M1997.8 157.7V172M1996.8 165.9h2" stroke="#000" stroke-width="2.2" fill="none" stroke-linecap="butt"/>
<path d="M1571.4 1V42" stroke="#000" stroke-width="2.0" fill="none" stroke-linecap="butt"/>
<path d="M1183 345.7V351.7M1181 348.7h4M1184.2 366.7V372M1182.2 369.3h4M1185.4 374.7V380M1183.4 377.3h4M1186.6 360V366.5M1184.6 363.2h4M1187.9 373.1V378.2M1185.9 375.6h4M1189.1 379.5V385M1187.1 382.3h4M1190.3 371.2V376.4M1188.3 373.8h4M1191.5 371.2V376.8M1189.5 374h4M1192.7 353V359.7M1190.7 356.4h4M1193.9 354.2V359.5M1191.9 356.8h4M1195.2 351.4V358.3M1193.2 354.9h4M1196.4 355.8V361.8M1194.4 358.8h4M1197.6 355V360.2M1195.6 357.6h4M1198.8 353.1V359.5M1196.8 356.3h4M1225.2 356.2V363.1M1223.2 359.7h4M1226.4 364.6V370.1M1224.4 367.3h4M1227.6 367.4V373.2M1225.6 370.3h4M1228.8 352.8V359.7M1226.8 356.3h4M1230 360.7V366.6M1228 363.7h4M1231.2 360.7V367.3M1229.2 364h4M1232.4 361.2V366.9M1230.4 364h4M1233.6 362.8V369.8M1231.6 366.3h4M1234.8 343.5V348.5M1232.8 346h4M1236 375.2V380M1234 378.3h4M1237.2 355.8V361.4M1235.2 358.6h4M1238.4 368.4V375.3M1236.4 371.8h4M1239.6 371.7V377.4M1237.6 374.5h4M1240.8 363.9V370.4M1238.8 367.1h4M1242 366.7V372.8M1240 369.8h4M1243.2 353.8V359.1M1241.2 356.5h4M1244.4 355.6V361.1M1242.4 358.3h4M1245.6 369.3V375.4M1243.6 372.4h4M1246.8 363.9V370M1244.8 367h4M1248 356.4V361.8M1246 359.1h4M1249.2 366.9V373.9M1247.2 370.4h4M1250.4 356.7V362.7M1248.4 359.7h4M1251.6 357.5V362.6M1249.6 360.1h4M1282.2 373.5V378.7M1280.2 376.1h4M1283.4 364.3V371.3M1281.4 367.8h4M1284.6 363.7V370.1M1282.6 366.9h4M1285.9 370.5V377M1283.9 373.7h4M1287.1 350.8V357.6M1285.1 354.2h4M1288.3 360.9V366.4M1286.3 363.6h4M1289.5 341.1V346.7M1287.5 343.9h4M1290.7 347.3V352.8M1288.7 350.1h4M1292 376.1V382M1290 379h4M1293.2 334.4V341.2M1291.2 337.8h4M1294.4 343.4V350.3M1292.4 346.8h4M1295.6 340.6V345.9M1293.6 343.2h4M1296.9 320.1V325.7M1294.9 322.9h4M1298.1 331.8V338.5M1296.1 335.1h4M1299.3 275V281.8M1297.3 278.4h4M1300.5 333.5V339.5M1298.5 336.5h4M1301.7 316.5V321.8M1299.7 319.1h4M1303 299.4V306M1301 302.7h4M1304.2 319.7V325.2M1302.2 322.5h4M1305.4 297.3V302.3M1303.4 299.8h4M1321.3 347.5V354M1319.3 350.7h4M1322.3 341V344.9M1320.3 341.9h4M1323.4 343.9V350.2M1321.4 347h4M1339.2 336.1V341.8M1337.2 338.9h4M1340.4 346.9V353.4M1338.4 350.2h4M1341.6 336.7V342.4M1339.6 339.6h4M1342.7 363V369.2M1340.7 366.1h4M1343.9 345.1V350.3M1341.9 347.7h4M1345.1 353.9V359.6M1343.1 356.7h4M1346.3 340.5V345.5M1344.3 343h4M1347.5 347.4V352.7M1345.5 350h4M1348.7 342.7V348.2M1346.7 345.4h4M1349.8 354.5V361.4M1347.8 358h4M1351 340V345.4M1349 342.7h4M1352.2 269.7V275.6M1350.2 272.7h4M1353.4 327.4V333.8M1351.4 330.6h4M1354.6 345.3V351.4M1352.6 348.3h4M1355.8 339.5V345.9M1353.8 342.7h4M1356.9 354.1V359.8M1354.9 357h4M1358.1 367.9V373M1356.1 370.8h4M1359.3 341.5V346.8M1357.3 344.1h4M1375 342.2V347.6M1373 344.9h4M1376.1 343.4V349.2M1374.1 346.3h4M1377.2 354.9V361.5M1375.2 358.2h4M1378.2 334V340.3M1376.2 337.1h4M1379.3 336.9V342.5M1377.3 339.7h4M1380.4 343.7V349.9M1378.4 346.8h4M1398.3 353V358.7M1396.3 355.8h4M1399.5 248.6V254.2M1397.5 251.4h4M1400.8 338.5V345.2M1398.8 341.9h4M1402 351.4V356.9M1400 354.1h4M1403.2 360.9V366.8M1401.2 364.3h4M1404.5 346.4V352.5M1402.5 349.5h4M1405.7 356.9V363.2M1403.7 360h4M1406.9 345.5V350.6M1404.9 348h4M1408.2 340.8V347.4M1406.2 344.1h4M1409.4 335.9V342.8M1407.4 339.4h4M1410.6 334.3V340.1M1408.6 337.2h4M1411.9 353.9V359.8M1409.9 356.8h4M1413.1 325.9V332.2M1411.1 329.1h4M1429 290V294.5M1427 291h4M1430.2 327V332.9M1428.2 329.9h4M1431.3 362.2V367.8M1429.3 365h4M1432.5 351.4V357M1430.5 354.2h4M1433.7 308.2V314.6M1431.7 311.4h4M1434.9 315.9V321.8M1432.9 318.8h4M1436.1 368.8V373M1434.1 372.1h4M1437.2 341.9V347.5M1435.2 344.7h4M1438.4 342.2V348.9M1436.4 345.5h4M1456.4 299.1V305.9M1454.4 302.5h4M1457.6 300.2V305.4M1455.6 302.8h4M1458.8 349.3V355M1456.8 352.2h4M1460 343.7V350.3M1458 347h4M1461.2 346.5V353.4M1459.2 349.9h4M1462.3 283.5V289.1M1460.3 286.3h4M1463.5 325.8V331.7M1461.5 328.8h4M1464.7 317.2V323.5M1462.7 320.3h4M1465.9 283V287.6M1463.9 284.5h4M1482.8 344.3V350.8M1480.8 347.6h4M1484 319.3V326M1482 322.7h4M1485.3 340.4V345.8M1483.3 343.1h4M1486.5 348.6V352M1484.5 351.9h4M1487.8 346.5V351.8M1485.8 349.2h4M1489 334.6V341.2M1487 337.9h4M1490.3 347.8V352M1488.3 350.7h4M1491.5 345.1V352M1489.5 348.6h4M1492.8 316.2V322.9M1490.8 319.5h4M1494 316V320.2M1492 317h4M1495.3 325.1V330.2M1493.3 327.6h4M1496.5 347.4V352M1494.5 350.7h4M1512.3 327V333M1510.3 330h4M1513.5 264.2V270.9M1511.5 267.5h4M1514.7 269.6V276.5M1512.7 273h4M1515.9 266.4V273.1M1513.9 269.7h4M1517.2 240V246.9M1515.2 243.4h4M1518.4 265.1V270.2M1516.4 267.7h4M1519.6 304.5V310.5M1517.6 307.5h4M1520.8 267.6V274.5M1518.8 271h4M1536.6 338.1V345.1M1534.6 341.6h4M1537.8 369.1V374.6M1535.8 371.8h4M1539 335.8V342.6M1537 339.2h4M1540.2 333.9V339.6M1538.2 336.8h4M1541.4 360.1V365.1M1539.4 362.6h4M1542.6 340.6V346.5M1540.6 343.5h4M1543.8 346.9V353.7M1541.8 350.3h4M1545 365V371.6M1543 368.3h4M1546.3 326.9V333.3M1544.3 330.1h4M1547.5 347.5V353.9M1545.5 350.7h4M1548.7 286.5V291.9M1546.7 289.2h4M1549.9 330.6V337.3M1547.9 333.9h4M1551.1 356.2V362.3M1549.1 359.2h4M1552.3 338.8V343.9M1550.3 341.3h4M1553.5 333.5V339.5M1551.5 336.5h4M1571.4 276V281.7M1569.4 278.8h4M1572.5 300.1V306.1M1570.5 303.1h4M1573.5 304.2V309.8M1571.5 307h4M1589.8 376.6V382.1M1587.8 379.4h4M1591 375.5V381.5M1589 378.5h4M1592.2 375.6V380.9M1590.2 378.2h4M1593.4 367.1V373.9M1591.4 370.5h4M1594.6 360.8V365.9M1592.6 363.3h4M1595.8 351.3V356.5M1593.8 353.9h4M1597 356.8V362M1595 359.4h4M1598.2 347.1V352.3M1596.2 349.7h4M1599.4 384.3V390M1597.4 387.1h4M1600.6 346V352.4M1598.6 349.2h4M1601.8 338.4V345.2M1599.8 341.8h4M1603 344.7V351.2M1601 348h4M1604.2 351.7V356.8M1602.2 354.2h4M1605.4 343.5V348.7M1603.4 346.1h4M1606.6 317.4V322.9M1604.6 320.1h4M1607.8 345.3V351.8M1605.8 348.5h4M1609 321.2V327.5M1607 324.4h4M1610.2 322.2V328.9M1608.2 325.5h4M1611.4 305V310M1609.4 307.5h4M1612.6 312.6V318.9M1610.6 315.8h4M1644 365.9V370M1642 368.9h4M1645.2 354.8V360M1643.2 357.4h4M1646.4 323.9V329.1M1644.4 326.5h4M1647.6 346.2V353.1M1645.6 349.7h4M1648.8 337.8V344.7M1646.8 341.3h4M1650 323.7V330.1M1648 326.9h4M1651.1 342.3V347.5M1649.1 344.9h4M1652.3 324.6V331M1650.3 327.8h4M1653.5 332.9V339.3M1651.5 336.1h4M1654.7 329.7V336.3M1652.7 333h4M1655.9 332.3V338.5M1653.9 335.4h4M1657.1 278V284.7M1655.1 281.4h4M1658.3 331.2V338.2M1656.3 334.7h4M1659.5 329.1V335.8M1657.5 332.5h4M1660.7 321.6V328.3M1658.7 325h4M1661.9 310.8V316.7M1659.9 313.7h4M1663 326.1V332.9M1661 329.5h4M1664.2 334V340.7M1662.2 337.3h4M1665.4 320.7V327.5M1663.4 324.1h4M1666.6 339.8V345.1M1664.6 342.4h4M1667.8 296.3V302M1665.8 299.1h4M1669 305.1V311.7M1667 308.4h4M1697.2 347.2V352.3M1695.2 349.7h4M1698.4 333.2V339.6M1696.4 336.4h4M1699.5 360V365.3M1697.5 362.7h4M1700.7 359.3V365.9M1698.7 362.6h4M1701.9 355.7V362M1699.9 358.8h4M1703.1 366.5V370M1701.1 369.7h4M1704.2 335.7V342.6M1702.2 339.1h4M1705.4 340.1V347.1M1703.4 343.6h4M1706.6 342.9V349.5M1704.6 346.2h4M1707.8 351.1V356.1M1705.8 353.6h4M1709 318.3V325M1707 321.7h4M1710.1 315V320.8M1708.1 317.9h4M1711.3 341.7V348.4M1709.3 345h4M1712.5 324.2V329.9M1710.5 327.1h4M1713.7 358.7V364.5M1711.7 361.6h4M1714.8 353.2V358.5M1712.8 355.9h4M1716 351.1V357.1M1714 354.1h4M1717.2 364.7V370M1715.2 367.6h4M1718.4 333.2V338.8M1716.4 336h4M1719.5 323V329.3M1717.5 326.1h4M1720.7 320.9V326.5M1718.7 323.7h4M1721.9 339.3V346M1719.9 342.6h4M1723.1 324.2V329.5M1721.1 326.8h4M1724.2 362.5V369M1722.2 365.7h4M1725.4 333.2V338.4M1723.4 335.8h4M1751.5 349.1V354.4M1749.5 351.7h4M1752.7 338.4V344.1M1750.7 341.3h4M1753.9 348.5V355M1751.9 351.7h4M1755.1 370V375.6M1753.1 372.8h4M1756.3 340.6V346M1754.3 343.3h4M1757.5 336.4V342.9M1755.5 339.6h4M1758.7 351V356.3M1756.7 353.6h4M1759.9 343.9V349.7M1757.9 346.8h4M1761.1 344.7V351.2M1759.1 348h4M1762.3 358.1V364.7M1760.3 361.4h4M1763.5 342.8V349.3M1761.5 346.1h4M1764.7 362V368.8M1762.7 365.4h4M1765.9 341.1V347.8M1763.9 344.5h4M1767.1 324.1V330.1M1765.1 327.1h4M1768.4 337.2V343.1M1766.4 340.1h4M1769.6 339.8V346.7M1767.6 343.2h4M1770.8 328.4V334.2M1768.8 331.3h4M1772 349.3V355.3M1770 352.3h4M1773.2 334.8V341.6M1771.2 338.2h4M1774.4 308.9V314.8M1772.4 311.9h4M1775.6 344.7V350.8M1773.6 347.7h4M1776.8 234.7V239.9M1774.8 237.3h4M1778 336.7V343M1776 339.9h4M1779.2 309.7V314.7M1777.2 312.2h4M1780.4 326.9V333.1M1778.4 330h4M1781.6 337.6V343.8M1779.6 340.7h4M1782.8 299.9V306.3M1780.8 303.1h4M1784 313.1V319.6M1782 316.3h4M1804.7 337.3V344M1802.7 340.6h4M1805.9 317V322.3M1803.9 319.6h4M1807.1 288V293.4M1805.1 290.7h4M1808.3 329.6V335.9M1806.3 332.7h4M1809.4 285.8V291.5M1807.4 288.6h4M1810.6 310.4V317.4M1808.6 313.9h4M1811.8 306.9V313.6M1809.8 310.2h4M1813 330.4V336.3M1811 333.3h4M1814.2 299V304.8M1812.2 301.9h4M1815.4 300.3V306.9M1813.4 303.6h4M1816.5 301.5V308.4M1814.5 304.9h4M1817.7 352.6V359.5M1815.7 356h4M1818.9 312.4V317.7M1816.9 315h4M1820.1 272.8V278.4M1818.1 275.6h4M1821.3 290.2V295.3M1819.3 292.8h4M1822.5 301.9V307.6M1820.5 304.8h4M1823.7 356.3V362.2M1821.7 359.2h4M1824.8 301.3V306.8M1822.8 304.1h4M1826 281.5V287.8M1824 284.7h4M1827.2 277V283.1M1825.2 280h4M1828.4 348.3V355.3M1826.4 351.8h4M1829.6 327.8V333.4M1827.6 330.6h4M1830.8 267.9V274.4M1828.8 271.2h4M1831.9 327.6V334.3M1829.9 331h4M1833.1 321.4V327.3M1831.1 324.3h4M1834.3 273.8V279.1M1832.3 276.5h4M1835.5 281.8V288.8M1833.5 285.3h4M1836.7 357.8V364.5M1834.7 361.2h4M1837.9 238V243.2M1835.9 240.6h4M1839 277.6V284.2M1837 280.9h4M1840.2 338.6V344.5M1838.2 341.5h4M1841.4 329.4V335.8M1839.4 332.6h4M1842.6 332.5V337.9M1840.6 335.2h4M1859 267.9V273.1M1857 270.5h4M1860.2 312V318.8M1858.2 315.4h4M1861.4 300.7V305.7M1859.4 303.2h4M1862.6 343.5V348.8M1860.6 346.2h4M1863.8 289.1V295.7M1861.8 292.4h4M1865 322.4V329.2M1863 325.8h4M1866.1 345V350.1M1864.1 347.6h4M1867.3 326.3V332.8M1865.3 329.6h4M1868.5 320.8V327.4M1866.5 324.1h4M1869.7 333.4V339.5M1867.7 336.4h4M1870.9 349.1V355.4M1868.9 352.3h4M1872.1 221.7V227.8M1870.1 224.8h4M1873.3 351.5V357.8M1871.3 354.6h4M1874.5 351.2V356.4M1872.5 353.8h4M1875.7 289V294.7M1873.7 291.8h4M1876.8 323.8V329.2M1874.8 326.5h4M1878 275.3V281.7M1876 278.5h4M1879.2 311.8V317.1M1877.2 314.5h4M1880.4 359.7V364.8M1878.4 362.3h4M1881.6 331.8V338.6M1879.6 335.2h4M1882.8 337.6V343.5M1880.8 340.5h4M1884 289.6V295.9M1882 292.8h4M1885.2 281.9V288.8M1883.2 285.3h4M1886.4 317.9V323.6M1884.4 320.7h4M1887.6 309.9V316.8M1885.6 313.4h4M1888.8 277.5V284M1886.8 280.7h4M1889.9 280.8V286.3M1887.9 283.6h4M1891.1 290.2V296.6M1889.1 293.4h4M1892.3 327.2V332.7M1890.3 330h4M1893.5 316.3V323M1891.5 319.7h4M1894.7 272.2V278M1892.7 275.1h4M1916.4 367.1V372.6M1914.4 369.9h4M1917.6 369.6V375M1915.6 372.4h4M1918.8 336.8V342.8M1916.8 339.8h4M1920 279.1V285.7M1918 282.4h4M1921.2 281.2V286.9M1919.2 284.1h4M1922.4 363.5V370.4M1920.4 366.9h4M1923.6 333.8V340.4M1921.6 337.1h4M1924.9 286V291.8M1922.9 288.9h4M1926.1 370V375M1924.1 373.4h4M1927.3 333.3V339.1M1925.3 336.2h4M1928.5 314.9V320.4M1926.5 317.6h4M1929.7 338.5V344.7M1927.7 341.6h4M1930.9 319V325.6M1928.9 322.3h4M1932.1 370.6V375M1930.1 373.5h4M1933.3 300V306.6M1931.3 303.3h4M1934.5 341.7V348.1M1932.5 344.9h4M1935.7 301.8V307.1M1933.7 304.4h4M1936.9 316.5V322.3M1934.9 319.4h4M1938.1 288.3V293.3M1936.1 290.8h4M1939.3 332.3V338.8M1937.3 335.5h4M1940.5 283.8V290.4M1938.5 287.1h4M1941.8 335.5V341.4M1939.8 338.5h4M1943 254V260.7M1941 257.3h4M1944.2 306.1V311.6M1942.2 308.8h4M1945.4 339.9V346.5M1943.4 343.2h4M1946.6 313.1V318.2M1944.6 315.7h4M1947.8 355.1V362.1M1945.8 358.6h4M1949 291.4V297M1947 294.2h4M1974 310.7V317.2M1972 313.9h4M1975.2 339.3V344.6M1973.2 341.9h4M1976.4 285.7V291.8M1974.4 288.7h4M1977.6 317.5V323M1975.6 320.2h4M1978.8 347.9V354.8M1976.8 351.3h4M1980 325.8V331.2M1978 328.5h4M1981.2 349V355.4M1979.2 352.2h4M1982.4 351.5V357.4M1980.4 354.4h4M1983.6 363.3V368.9M1981.6 366.1h4M1984.8 364.5V371.3M1982.8 367.9h4M1986 375.2V381.2M1984 378.2h4M1987.2 315V321.4M1985.2 318.2h4M1988.4 299.3V305.8M1986.4 302.6h4M1989.6 320.1V326.9M1987.6 323.5h4M1990.8 299.9V306.7M1988.8 303.3h4M1992 332.1V337.7M1990 334.9h4M1993.2 343.8V350.8M1991.2 347.3h4M1994.4 367V372.8M1992.4 369.9h4M1995.6 337.8V343M1993.6 340.4h4M1996.8 344.7V350.1M1994.8 347.4h4" stroke="#000" stroke-width="2.0" fill="none" stroke-linecap="butt"/>
<path d="M1589.9 366V393" stroke="#000" stroke-width="2.0" fill="none" stroke-linecap="butt"/>
<path d="M1223 535.7V551.1M1223.9 532.2V551.6M1224.8 534.7V552.1M1225.7 536.8V552.1M1226.6 534V553.4M1227.5 537.5V553.6M1228.4 534.1V551.5M1229.3 527V555.4M1230.2 536.8V561M1231 538.2V556.1M1231.9 539.8V557.1M1232.8 541.2V557.1M1233.7 544.9V559.2M1234.6 535.4V559.3M1235.5 534.9V554.9M1236.4 531.7V546.5M1237.3 539.5V558.4M1238.2 539.4V557.6M1239.1 534.3V566M1240 540.1V559.8M1240.9 541.9V556.5M1241.8 534.9V555.9M1242.7 533.5V555.3M1243.6 534.4V548.9M1244.4 533V556.9M1245.3 534.4V557.1M1246.2 537.4V552.8M1247.1 533.2V552.4M1248 534.6V556M1248.9 537.8V553.9M1249.8 543V556.8M1250.7 536.2V552.9M1251.6 546.7V562.4M1268.5 546.9V560M1269.3 535V559.8M1270.1 539.6V555.7M1270.9 535V558.4M1271.7 538.3V557.3M1280 533.8V560.1M1280.9 533.5V561M1281.8 535.5V554.4M1282.7 536V558.5M1283.6 531.7V559.3M1284.5 539V555.3M1285.4 534.8V552.1M1286.3 533.1V557.3M1287.3 533V555.6M1288.2 531.4V557M1289.1 533.1V554.1M1290 538V554.4M1290.9 535.3V562M1291.8 526V554.8M1292.7 532.5V558.9M1293.6 538.4V556.4M1294.5 535.1V559.6M1295.4 532.6V551.2M1296.3 533V555.9M1297.2 535.1V562M1298.1 538.9V560M1299.1 534.6V552.2M1300 536.4V560.5M1300.9 534.5V553M1301.8 530.2V557.6M1302.7 540V559.1M1303.6 541.2V558.2M1304.5 535.1V551.7M1305.4 538.6V556.4M1321.3 528.7V557.9M1322.2 533.3V552.6M1323.1 534.6V554M1324 532.9V552.3M1324.9 530.1V551.1M1325.8 528.2V557.1M1326.7 529.3V554.2M1327.5 532V555.9M1328.4 531.3V559.4M1329.3 522V546.8M1330.2 532.3V558.7M1331.1 534.6V551.7M1332 536.6V555.7M1332.9 535V560.3M1337 536.9V552.8M1337.9 532.9V566M1338.8 537V561.8M1339.7 528.1V554.4M1340.6 535.5V561.7M1341.5 539.2V561.9M1342.4 534.3V560M1343.2 538.5V557.6M1344.1 536.5V562.1M1345 530.7V553.8M1345.9 526V551.7M1346.8 534.6V556.2M1347.7 536.5V560.3M1348.6 534.3V559.4M1349.5 536.3V553.5M1350.4 534V556.4M1351.3 539.7V557.2M1352.2 539.2V560M1353.1 533.5V552.5M1353.9 540.4V557.5M1354.8 539V557.6M1355.7 537.6V554.7M1356.6 541.6V558.5M1357.5 534.2V554.9M1358.4 534.4V560.8M1359.3 532.6V559.1M1376.2 532.9V557.9M1377.1 540.2V557.9M1378 535.4V551.8M1378.9 529.2V551.9M1379.8 527.6V555.3M1380.7 535.3V553.4M1381.6 533.4V552.4M1382.5 530.2V555M1383.4 534.1V555.7M1384.3 540.3V556.8M1385.2 533.1V556.8M1386.1 525.7V552.3M1387 540.7V558.6M1387.9 538.6V555.9M1388.8 531.6V557.2M1389.7 533.6V551.6M1390.6 535.5V554.8M1391.5 520V556.3M1392.4 531.2V554.3M1393.3 532.8V555.6M1394.2 537.5V554.8M1395.1 530.8V546.6M1396 534V550.6M1396.9 536.1V553.6M1397.8 528.4V555.9M1398.7 533.7V553.5M1399.6 531V552.6M1400.5 532.9V552.8M1401.4 531.3V556.7M1402.3 533.7V558.1M1403.2 535.8V560.3M1404.1 534.9V551M1405 536.5V560.7M1405.9 535.1V552.1M1406.8 531.4V552M1407.7 530.4V556.2M1408.6 530.8V553.4M1409.5 532.1V559.4M1410.4 530.2V547M1411.3 539.2V565M1412.2 533.2V557.6M1413.1 533.2V549.6M1394.7 489V587M1429 534V555.9M1429.9 532.1V552.7M1430.8 533.1V570M1431.7 534.9V555.2M1432.6 535.9V557.4M1433.5 540.2V557.7M1434.5 537.1V554.5M1435.4 537.2V555.1M1436.3 536.8V557.5M1437.2 535.6V557.8M1438.1 533V552.7M1439 530.7V552.7M1439.9 540.2V555.8M1440.8 535.2V560.8M1441.7 533.8V559.7M1442.6 530.3V554.2M1443.6 542.9V559.5M1444.5 535.5V555M1445.4 531.7V555.9M1446.3 537.1V560M1447.2 529.7V556M1448.1 540.4V556.2M1449 539.6V556.6M1449.9 527V560.5M1450.8 539.6V555.2M1451.7 534.8V555.1M1452.7 534.7V561.1M1453.6 539.7V560.2M1454.5 534.9V551.1M1455.4 531.5V558.2M1456.3 537.1V559.1M1457.2 537.8V558.8M1458.1 537.3V560.2M1459 537.3V556.2M1459.9 542.7V558.6M1460.8 539.3V556.6M1461.8 539.8V561.6M1462.7 544.2V564.7M1463.6 533V559M1464.5 534.2V551.6M1465.4 536.8V554.8M1466.3 538.2V561.1M1453.2 540V590M1482.8 535.2V554.8M1483.7 536.4V559.2M1484.6 535.2V553M1485.5 534.9V555.9M1486.3 538.5V554.5M1487.2 537.1V563M1488.1 533.9V554.3M1489 533.4V560M1489.9 532.9V557.4M1490.8 537.3V552.8M1491.6 540.4V556.7M1492.5 533.3V553M1493.4 536.4V551.7M1494.3 536.2V554.1M1495.2 538.7V559.5M1496.1 539.4V555.7M1496.9 532.3V559M1497.8 535.4V570M1498.7 527V563.3M1499.6 534.4V556.7M1500.5 538.4V558.2M1501.4 537.2V562M1502.2 531V554.3M1503.1 535.6V554.8M1504 540V555.6M1504.9 536.1V560.4M1509.2 531.3V553.1M1510.1 539.5V580M1511 536.3V561M1511.9 535.3V551.9M1512.8 535.4V555.6M1513.7 522V562.1M1514.6 533.6V554.1M1515.4 533.5V556.6M1516.3 531.3V551.3M1517.2 540.7V570M1518.1 533.7V556.9M1519 531.6V558.4M1519.9 541.8V561.3M1520.8 529.1V573.7M1536.6 532.3V557.7M1537.5 527.8V553.2M1538.4 521V557.5M1539.3 533.4V551.3M1540.2 533.9V562.7M1541.1 535V557.3M1542 535.9V566M1542.9 530V556.5M1543.9 537.1V559.3M1544.8 528.9V558.1M1545.7 529.6V553.6M1546.6 535.1V559.6M1547.5 536.6V561.5M1548.4 532.2V560.8M1549.3 535.8V560M1550.2 528.4V555M1551.1 532.3V558M1552 534.7V556.5M1552.9 534V553.1M1553.8 533.9V558M1554.7 526.7V550.7M1555.7 538.6V559.3M1556.6 531V558.3M1557.5 537.2V553.8M1558.4 535.8V554.2M1559.3 533.9V553.9M1560.2 533.7V555.6M1561.1 537.8V555.2M1562 536V556.5M1567.2 532.9V558.1M1568.1 524.2V548M1569 518V555.9M1569.9 541.1V559.8M1570.8 541.3V561M1571.7 525V564M1572.6 534.5V551.1M1573.5 533.8V557.4M1589.8 525V556.8M1590.7 534.2V554.9M1591.6 538.6V555.8M1592.5 536.1V551.4M1593.5 539.3V556.2M1594.4 538.4V553.8M1595.3 534.9V554.9M1596.2 534V554.7M1597.1 540.3V555.2M1598 535.4V556.3M1598.9 536.6V556.4M1599.8 537.9V556.5M1600.8 537.3V552.5M1601.7 538.5V558.7M1602.6 536.6V551.8M1603.5 539.4V554M1604.4 533.4V548.1M1605.3 536.3V557.7M1606.2 531.1V554.5M1607.1 537.7V552.8M1608 533.2V554M1609 531.2V552.2M1609.9 533.2V549.8M1610.8 530.7V554.3M1611.7 531V554.8M1612.6 532.2V552.5M1613.5 535.4V566M1614.4 536V551.1M1615.3 536V555M1616.3 532V553.1M1617.2 539V554M1618.1 536.3V552.8M1619 540.7V557.7M1590.3 504.6V550M1644 533V558.8M1644.9 535.6V560.8M1645.8 539.1V560M1646.7 534.6V555.9M1647.6 534.2V558.6M1648.5 531.8V553.1M1649.5 541.2V560.3M1650.4 538.5V558.9M1651.3 536.1V558.2M1652.2 530.4V552M1653.1 536.1V558.8M1654 539.3V554.7M1654.9 535.8V554.4M1655.8 534.3V558.3M1656.7 533.6V555.3M1657.6 539.6V563M1658.5 534.2V555M1659.5 531.9V556.9M1660.4 539.8V556.7M1661.3 534.7V559.4M1662.2 539.7V557.4M1663.1 536.7V556.5M1664 525V555.5M1664.9 536.9V560.6M1665.8 537.1V561.4M1666.7 541.3V558.1M1667.6 538.7V554.4M1668.5 537.5V556.9M1669.4 533.2V558.2M1670.4 535.3V556.3M1671.3 539.4V560.6M1672.2 535.9V558.1M1673.1 534.1V555.6M1674 535.7V553M1674.9 535.7V557.1M1697.2 532.2V568M1698.1 538.8V557.6M1699 545V564.2M1699.9 541.5V563.3M1700.8 535.9V561M1701.7 538.2V555.6M1702.6 533.3V551.4M1703.4 518V559.8M1704.3 537.4V556.4M1705.2 532V557.2M1706.1 531.2V558M1707 537.6V555.9M1707.9 537.4V560.6M1708.8 533.6V548.6M1709.7 529.9V553.9M1710.6 539V554.6M1711.5 535.2V555.7M1712.4 532V557.3M1713.3 536.5V552.7M1714.2 532.9V555.6M1715 535.7V560M1715.9 520.9V554.9M1716.8 534.6V557.6M1717.7 536.2V557.1M1718.6 535.8V556.8M1719.5 537.5V557.4M1720.4 534.9V561.5M1721.3 530.7V555.6M1722.2 541V557.5M1723.1 533.3V558.9M1724 532.5V555.8M1724.9 539.8V555.6M1725.8 533.6V559.1M1726.6 534.3V560.3M1727.5 534.3V555.7M1728.4 539.5V558.2M1729.3 534V560.3M1730.2 531.9V557.8M1731.1 537V555M1732 536.2V551.8M1751.5 527.5V550.9M1752.4 536.3V558.4M1753.3 533.8V555.2M1754.2 530.8V553.2M1755.1 537.4V558.8M1756 537.3V553.2M1756.8 536.1V552.9M1757.7 534.7V553.5M1758.6 534.8V553.6M1759.5 538.9V556.4M1760.4 535.3V549.7M1761.3 534.2V552.8M1762.2 536.8V555.8M1763.1 535.3V558.7M1764 536.5V558.9M1764.9 532.1V547.2M1765.7 536.9V550.7M1766.6 531.5V554.5M1767.5 537.3V552.3M1768.4 537.8V555.3M1769.3 534.8V551.2M1770.2 532.1V549.4M1771.1 536V551.2M1772 529.1V551.7M1772.9 529V553.9M1773.8 528.9V549.6M1774.6 534.4V553.4M1775.5 535.9V552.3M1776.4 536.6V553.9M1777.3 539.3V557.4M1778.2 537.4V553.1M1779.1 535.7V558.7M1780 532.5V553.1M1780.9 537V563M1781.8 535.5V555.7M1782.7 532.9V553.2M1783.5 537.5V554.9M1784.4 541.5V557.7M1785.3 538.1V553.4M1786.2 525V554.5M1787.1 535.8V556.6M1788 542.2V557.9M1806.8 533.9V552.6M1807.7 537.8V554M1808.6 526.1V553.9M1809.5 534.4V551.2M1810.4 536.8V552.6M1811.3 534.1V554.9M1812.2 540.2V563.7M1813 529.6V556M1813.9 532.8V550.2M1814.8 532.4V552.4M1815.7 532.7V552.2M1816.6 532V557.5M1817.5 534.9V557.4M1818.4 526.9V546.6M1819.3 534.6V558.9M1820.2 531.1V549.3M1821.1 538.3V558.4M1822 529.1V549.8M1822.9 537.5V556M1823.8 535V561.1M1824.6 525.6V551.1M1825.5 531.9V556.4M1826.4 536.2V556.2M1827.3 537.1V554.8M1828.2 533.9V552.7M1829.1 532.1V557.4M1830 530.9V558.6M1830.9 530.3V557.2M1831.8 532.7V550.8M1832.7 531.2V553.8M1833.6 530.4V557.7M1834.5 533.9V558.2M1835.4 534.2V556.5M1836.2 529.6V556M1837.1 528.4V551.3M1838 531.8V551M1838.9 529.7V568M1839.8 532V558.5M1840.7 534V559.4M1841.6 538.9V554.7M1807.3 493.8V572M1864.3 534.2V566M1865.2 536.8V553.9M1866.1 537.2V554.6M1867 537.4V554.3M1867.9 529.9V552.2M1868.8 528.5V552.7M1869.7 541.7V557.3M1870.6 531.3V555.8M1871.5 531.7V557.3M1872.4 536.4V552.8M1873.3 531.3V549.9M1874.2 535.6V559.4M1875.1 534.9V554.9M1876 537.1V561.3M1876.9 527.5V552.5M1877.8 532.5V555.7M1878.7 533.8V558.3M1879.6 531.8V553.7M1880.5 533.4V559M1881.4 536.6V560.2M1882.3 537.1V559.6M1883.2 534V558M1884.1 531.1V552.3M1885 525V556.8M1885.9 529.8V551.3M1886.8 540.2V554.7M1887.7 535.2V554.1M1888.6 530.8V555.7M1889.5 536.8V551.2M1890.4 535V552.2M1891.3 541.3V557.8M1892.2 533V555.9M1893.1 534.4V558.8M1894 533.5V557.8M1894.9 540.6V559.6M1895.8 531.9V549.5M1864.8 514V588M1919.7 537.9V555.8M1920.6 529.8V550.5M1921.5 533.8V551.2M1922.4 541.1V556M1923.3 532.6V555.8M1924.2 535.3V563M1925 534.9V556.6M1925.9 533.3V554.7M1926.8 535.2V554.7M1927.7 532.6V552.7M1928.6 533.4V557.3M1929.5 525V556.1M1930.4 534.3V551.4M1931.3 535V551.8M1932.2 530.7V552.7M1933.1 535.2V550M1933.9 536.1V551M1934.8 530.6V555.3M1935.7 539.3V557.8M1936.6 535.2V557.1M1937.5 530.4V554.4M1938.4 532.2V557.4M1939.3 535.6V553.6M1940.2 534V552.8M1941.1 527.4V553.7M1942 533.7V552M1942.8 533.8V551.5M1943.7 538.4V555.8M1944.6 532.2V552.1M1945.5 533.1V554.4M1946.4 533.8V553.6M1920.3 535V580M1972.9 533.2V558.5M1973.8 527.9V551M1974.7 538.2V558.1M1975.6 529.3V553M1976.4 536.4V551.2M1977.3 534.4V554.6M1978.2 531.5V554.9M1979.1 538.4V553.7M1980 534.7V550.1M1980.9 530.7V551.5M1981.8 531.8V555.2M1982.6 529V554.8M1983.5 535.6V553.5M1984.4 539.8V559.2M1985.3 532.8V552.8M1986.2 530.6V553.4M1987.1 531V555.2M1987.9 524V556.3M1988.8 535.3V566M1989.7 535.4V556.6M1990.6 533.8V558.1M1991.5 529.1V551.7M1992.4 533.8V549.8M1993.3 533.1V556.4M1994.1 533.5V552.7M1995 531.2V556.9M1995.9 533.9V549.4M1996.8 529.4V553.3M1973.4 503.5V577" stroke="#000" stroke-width="2.0" fill="none" stroke-linecap="butt"/>
<path d="M159.5 877.4V924.7M160.5 887.8V919.6M161.6 877V929.9M162.6 877.2V910.3M163.6 855.4V937.9M164.7 876.3V906.2M165.7 880.9V932.9M166.8 889.2V916.7M167.8 868.5V909.8M168.8 849.2V920.4M169.9 856.2V907.9M170.9 870.3V915.7M221.1 841.4V907.2M222.2 871.4V906M223.2 858.4V901.8M224.3 840.2V911.2M225.3 874.5V915.3M226.4 878V908.6M227.4 870.3V914.9M228.5 867.7V902.7M229.5 831.3V911M230.6 871.6V916.8M276.4 901.7V928.3M277.4 897.7V925.7M278.5 900.9V933.7M279.5 893V918.9M280.5 891.3V921.8M281.6 879.4V923.4M282.6 889.9V914M283.6 882V912.3M284.6 888.5V917.9M285.7 884.1V924.1M286.7 872.4V912.3M287.7 887.9V923.4M288.8 872.4V918.5M289.8 885V919.1M290.8 875.4V921M291.9 880.8V923.8M292.9 880.3V913.4M288.7 787V880M336.8 857.3V912.1M337.9 870V920.1M339 869V921.5M340.1 864.5V932.6M341.1 875.8V906.9M342.2 867.5V898.1M343.3 871.2V909M344.4 863.1V913.7M345.5 876.9V928.4M346.6 850V915.8M347.7 865.4V914.5M348.7 864.1V921.6M349.8 869.6V910.4M350.9 862.8V918.3M352 865.1V924.9M347.8 900V948M398 872.8V910.2M399.1 878.5V917.1M400.2 880.2V921.4M401.3 871.1V925M402.4 868.2V925M403.5 864.3V920.4M404.6 881.2V925M405.6 866.7V916.1M406.7 873.7V917.5M407.8 867.7V914.8M408.9 875.7V911.7M410 849V911.5M411.1 867.4V897.7M459.2 886.8V912.5M460.3 889.3V926M461.4 878.8V919.9M462.5 872V931.3M463.7 889.4V914.7M464.8 873.4V935M465.9 885.6V918.6M467 872.8V911.7M519.8 896.6V930.2M520.7 870.7V926.1M521.7 883.8V930.6M522.6 879.9V910.9M702.5 858V899.2M703.5 868.8V904.9M704.5 879V911.9M705.6 858V903.1M706.6 859.5V902.4M707.6 872.1V920M708.7 861.9V913.2M709.7 862.5V895.6M710.7 860.9V910.5M709.8 832V948M761.5 882V909.7M762.6 869.6V906.4M763.6 868.9V918.1M764.7 874.6V908.9M765.8 880.9V915.1M766.9 881.1V916.3M768 874V909.6M769 867.3V914.2M770.1 873.6V919.3M771.2 881V911.6M772.2 877.9V915.8M773.3 872.6V926M774.4 863.4V912.6M820.9 876.9V931.5M822 870V925.6M823.1 874.3V923.9M824.1 880.4V931.5M825.2 868.6V917.2M826.3 877.1V910.7M827.4 871V908.5M828.5 878.2V913M829.6 865V900.6M830.6 866.4V922.9M831.7 888.4V923.2M832.8 889.5V921M833.9 873V918.6M829.5 835.4V948M880.3 867.7V919.9M881.4 888.2V916.5M882.5 876.8V914M883.6 865.6V929.3M884.6 879.9V909.8M885.7 870V912.7M886.8 878.6V926.8M887.9 882.3V916.7" stroke="#000" stroke-width="2.0" fill="none" stroke-linecap="butt"/>
<path d="M142 1048.7V1086.1M143.2 1055.7V1084.3M144.5 1045.3V1104.4M155.2 1057.9V1095.8M156.2 1059.2V1102.6M157.3 1065.4V1103.4M158.3 1063.1V1094.4M159.4 1062.9V1100.9M160.4 1063.6V1107.4M161.5 1070.2V1103.3M162.5 1063.1V1089.5M163.6 1062.1V1098.4M164.6 1068.3V1107.6M165.7 1064.4V1107.6M166.7 1065.4V1103M167.8 1058.2V1099.2M168.8 1055V1093.4M169.9 1072.1V1097.3M170.9 1069.8V1107.6M172 1064.6V1105M173 1054.8V1094.9M155.6 1037.9V1138.2M215.2 1049.6V1095.2M216.3 1056.9V1089.5M217.3 1055.1V1089.7M218.4 1046V1092.8M219.4 1035.8V1101.2M220.5 1048.8V1083M221.5 1057.2V1103.6M222.6 1058.1V1089.2M223.6 1059.4V1116M224.7 1055V1084.4M225.8 1060.5V1109.8M226.8 1052.9V1096.8M227.9 1056.1V1099.8M228.9 1039.5V1096.5M230 1039.4V1101M231 1053.8V1082.4M232.1 1062.9V1091.3M275.6 1064.6V1099.3M276.7 1056V1090.2M277.8 1060.7V1096.5M278.9 1050.6V1095.2M279.9 1058.1V1084.1M281 1050.6V1090.5M282.1 1061V1086.2M283.2 1050.6V1107.6M284.3 1058.5V1098.3M285.4 1052.8V1082.3M286.5 1052.5V1097M287.5 1054.7V1094M288.6 1055.5V1091.1M289.7 1057.2V1098.2M290.8 1063.8V1100.3M336.2 1067.9V1098.9M337.3 1059.4V1106.4M338.3 1057V1094.2M339.4 1065.1V1108.9M340.4 1036.8V1123.4M341.5 1055V1108.8M342.5 1044.9V1113.9M343.6 1066.8V1110M344.6 1056.6V1092.9M345.7 1069.3V1118.1M346.7 1073.8V1108.4M347.8 1073.4V1103.4M348.8 1046.7V1095.3M349.9 1058.2V1108.4M350.9 1070.4V1115.2M352 1052.2V1090.9M381.6 1055V1087.1M382.9 1045V1077.5M384.1 1046.6V1089.4M397.8 1052.2V1092.6M398.9 1054.1V1080.7M399.9 1060.7V1100.5M401 1055.4V1102.5M402.1 1067V1098.6M403.2 1052.5V1092.3M404.2 1058.6V1095.9M405.3 1059.5V1104.4M406.4 1055.7V1101.2M407.4 1056V1096M408.5 1049.5V1095.8M409.6 1051.3V1095.7M410.7 1064.5V1095.8M411.7 1065.7V1096.3M412.8 1062.1V1096.3M440.7 1067.5V1108M441.8 1052.4V1089.7M442.8 1059.3V1115M443.9 1052V1089.8M444.9 1040.2V1105.1M446 1057.3V1107.1M458.6 1044.6V1095.4M459.6 1058.5V1095.9M460.6 1058.5V1100.6M461.6 1063.4V1112.3M462.6 1056.5V1113.9M463.7 1059.2V1111.5M464.7 1053.2V1091.6M465.7 1057.9V1113.9M466.7 1066.2V1104.5M467.7 1057.7V1107.6M501.5 1054.8V1112.3M502.6 1070.9V1125.5M503.8 1055.5V1108.1M505 1075.5V1114.8M506.1 1054.8V1102.5M520.5 1047V1100M521.7 1059.1V1090.3M522.8 1053.9V1086.6M524 1057V1094.4M523 1060V1146.6M560.5 1070.1V1119M561.5 1060.2V1105.9M562.6 1064.6V1115.9M563.6 1055.2V1081.4M564.6 1075.2V1117M565.6 1064.5V1105.5M566.7 1055.2V1106M567.7 1068.8V1111.4M583.7 1036.8V1147M621.7 1042V1088.1M622.7 1047.7V1090.1M623.7 1062.8V1094.8M624.7 1057.7V1094.5M625.6 1054.4V1100.6M626.6 1046.9V1079.4M627.6 1046.8V1096.1M628.6 1045.7V1090.8M640.5 1050.6V1110.3M641.6 1030.3V1084M642.7 1033.5V1096.3M643.7 1058.9V1097.8M644.8 1064.9V1101.8M645.9 1052.5V1085.9M680.9 1046.6V1098.5M681.9 1045.3V1104.3M683 1037.4V1083.3M684 1059.4V1097.9M685 1054.6V1109.6M686 1062.3V1096.8M687 1053.1V1112.5M688.1 1046.5V1108.7M689.1 1047.3V1088.6M698.8 1057.4V1106.5M699.8 1045.4V1086.5M700.9 1048.8V1081.8M701.9 1030.3V1090.8M702.9 1042.4V1083.6M704 1043.9V1096M705 1061.9V1092.2M706 1032.9V1105.4M707 1052.6V1091.2M708.1 1033.8V1094M709.1 1059.6V1095.7M710.1 1043.6V1093.7M711.2 1049.4V1097.8M712.2 1059.1V1119M741 1043.3V1092.5M742.1 1059.5V1091M743.1 1059.5V1122.8M744.2 1052.1V1093.2M745.3 1046.6V1143.8M746.4 1060.4V1099.4M747.4 1054.7V1101.6M748.5 1065.8V1093.7M757.2 1057.6V1086M758.2 1045.5V1095.3M759.2 1048.9V1094.7M760.3 1058.4V1099.2M761.3 1052.7V1087.1M762.3 1052.9V1123.3M763.4 1058.7V1108.1M764.4 1056.5V1099.3M765.4 1056.4V1107.5M766.4 1062.4V1103M767.5 1061.7V1107.1M768.5 1052.8V1097.1M769.5 1057.4V1088.8M770.5 1056.8V1093.6M771.6 1063.6V1102.7M772.6 1066.8V1113.6M773.6 1057.6V1104.5M774.6 1069.4V1101.6M775.7 1061.4V1107.6M776.7 1055V1091.7M777.7 1045.5V1120.2M801 1044.4V1117.9M802 1049.2V1091.5M803 1050.5V1109.7M804 1050.9V1085.6M805 1049.3V1101.3M806 1044.4V1093.9M807 1051.7V1082.4M808 1053V1103.6M813.3 1064.2V1094.1M814.3 1055.9V1095.7M815.4 1061.9V1092M816.4 1066.4V1099.9M817.4 1043.3V1090M818.5 1054V1104.9M819.5 1043.3V1082.2M820.5 1060.9V1089.3M821.6 1058.1V1093.1M822.6 1060.6V1100.6M823.6 1050.5V1088M824.7 1046.7V1092.8M825.7 1055.7V1086.8M826.8 1049.6V1085.6M827.8 1050.3V1093.8M828.8 1056.6V1085.5M829.9 1048.9V1093.4M830.9 1063.4V1089.7M831.9 1054.6V1083M833 1052.6V1093.8M834 1060V1092.4M835 1056.5V1086.7M836.1 1043.3V1090.2M837.1 1058.9V1092.4M835.6 1080V1146.6M860.9 993.3V1073M862 1038.5V1084.5M863.1 1030.9V1095.1M864.1 1023.1V1082.8M865.2 1020.9V1100.7M866.3 976.3V1071.7M867.4 1024.6V1104.9M874.5 1046.7V1085.9M875.5 1054.9V1089.8M876.6 995.8V1083.6M877.6 1062.8V1086M878.6 1025V1089M879.7 1061.4V1093.4M880.7 1057.4V1104.9M881.7 1057.2V1083M882.7 1057.1V1080.6M883.8 1057.8V1096.4M884.8 1052.7V1097.5M885.8 1054.3V1089.8M886.9 1048.6V1084.3M887.9 1066.6V1090.7" stroke="#000" stroke-width="2.0" fill="none" stroke-linecap="butt"/>
<path d="M142 1270V1299.7M143.2 1266.3V1301.7M144.5 1256V1307.8M156 1231.8V1314.6M157.1 1255.6V1300.4M158.1 1251.3V1330M159.2 1257.7V1310.2M160.2 1265.2V1317.5M161.3 1248.9V1310.6M162.4 1257.5V1293M163.4 1246.2V1308.6M164.5 1234.8V1301.5M165.6 1244.6V1305.6M166.6 1263.5V1299.9M167.7 1252.4V1299.6M168.8 1258.5V1299.2M169.8 1253.3V1295.1M170.9 1267.6V1300.4M171.9 1273.2V1322.2M173 1256.3V1293.5M166.5 1280V1344.8M168 1290V1344.8M215.8 1259.3V1291M216.8 1248V1315.5M217.9 1274.8V1308.6M218.9 1259.7V1292.3M219.9 1256.1V1308.8M221 1258.9V1313.5M222 1251.3V1331.1M223 1273.9V1310.3M224.1 1269.1V1315M225.1 1268.6V1317.7M226.2 1243.4V1311M227.2 1274.1V1313M228.2 1262V1317.8M229.3 1271.4V1303.4M230.3 1268.6V1335.3M231.3 1256.5V1315.5M232.4 1265.7V1304.5M233.4 1259.5V1325.2M275.6 1255.2V1300.1M276.7 1262.2V1307.6M277.8 1272.5V1303M278.8 1266.2V1303.6M279.9 1259V1315.3M281 1242.7V1324.3M282.1 1260.1V1309M283.2 1257.6V1310.4M284.2 1236V1333M285.3 1254.7V1308.6M286.4 1258.9V1330.5M287.5 1254.2V1308.5M288.6 1259.4V1304.7M289.7 1259.4V1310M290.7 1247.3V1312M291.8 1255.2V1336.3M292.9 1254.8V1300.7M322.4 1202.3V1344.8M336.2 1261.3V1316.2M337.3 1258.2V1341.6M338.4 1242.4V1321.3M339.4 1256.5V1316.4M340.5 1256V1292.3M341.6 1262.5V1316.5M342.7 1266V1337.9M343.8 1253.4V1295.5M344.8 1259.3V1308.2M345.9 1250.6V1317M347 1270.4V1318.5M348.1 1254.7V1292.6M349.2 1247.4V1312.2M350.2 1253V1317M351.3 1271.1V1308.5M352.4 1258.3V1334.3M348 1190.7V1344.8M381.1 1266.9V1320.4M382.3 1256V1311M383.5 1273.3V1311.1M384.7 1276V1324.7M397.4 1262.8V1301M398.4 1264.4V1317.8M399.5 1263.4V1327.9M400.5 1260.8V1307.4M401.5 1220.9V1307.4M402.5 1257.7V1310.1M403.6 1228.3V1310.4M404.6 1264.4V1320.6M405.6 1279V1322.3M406.6 1255.8V1306.2M407.7 1265.6V1322.8M408.7 1246.9V1307.7M409.7 1213.9V1299.1M410.7 1254.3V1310.8M411.8 1249.1V1310.1M412.8 1265.6V1302.2M444.9 1147.4V1337.4M441.7 1246V1344.8M459.7 1261.9V1299.2M460.7 1253V1322.7M461.8 1253.9V1316.4M462.8 1258.6V1326.8M463.9 1267.4V1310.1M464.9 1261.9V1295.5M465.9 1253V1306.1M467 1253V1314.1M468 1253V1304.7M501.9 1242.2V1297.6M503 1253.3V1299.3M504.2 1221.3V1316.3M505.4 1248.1V1290.1M506.5 1255.1V1303.3M520.9 1267.7V1324.7M522.1 1264.2V1306.9M523.4 1253V1310M561.6 1248.1V1291.8M562.6 1243.7V1311M563.6 1256.5V1297M564.7 1249.6V1320.4M565.7 1256.6V1315.7M566.7 1258.3V1285.9M567.7 1264.1V1292M583.2 1228.6V1287.2M584.1 1236.8V1289.9M585 1245.5V1295.4M645.4 1231.8V1343M703.6 1252.7V1313.7M704.6 1256.5V1304.5M705.7 1252.9V1319.4M706.7 1259.1V1323.7M707.7 1249V1311.9M708.8 1264.5V1316.7M709.8 1243.7V1292.6M710.8 1253.5V1301M711.9 1256.4V1315.5M712.9 1257.3V1297.5M706 1300V1344M741.4 1240.3V1276.6M742.4 1235.8V1299.6M743.4 1255V1304.1M744.4 1245.1V1299.5M745.5 1246.4V1293M746.5 1251.2V1308.5M747.5 1265.5V1304.3M748.5 1257V1291.9M742 1290V1344M754.6 1241V1295.6M755.6 1257.7V1318.4M756.7 1246.3V1313.3M757.8 1263.4V1312M758.8 1266.2V1329.5M759.9 1261V1332M760.9 1269.9V1327M762 1262.9V1298.1M763 1256.9V1308.3M764.1 1261.4V1328.5M765.1 1249.5V1310M766.2 1244.4V1302.9M767.2 1270.4V1323M768.2 1254.6V1308.7M769.3 1255.9V1306.8M770.4 1266.2V1314.9M771.4 1259.4V1303.1M772.5 1257.7V1325.3M773.5 1238V1298.9M774.6 1256.4V1325.8M775.6 1252.3V1298.5M776.7 1257.6V1302.7M777.7 1264.9V1322.3M769 1191.9V1344M801.5 1262.6V1335M802.6 1268.5V1332.5M803.7 1267.6V1305.5M804.8 1255V1311.4M805.8 1270.3V1307.4M806.9 1266.7V1317.9M808 1270.4V1322.1M807.3 1204.8V1344M814.4 1269.1V1308.3M815.5 1264V1298.4M816.5 1257.3V1291.9M817.6 1255.3V1309.6M818.6 1263.8V1308.7M819.7 1259.6V1299.9M820.7 1253.5V1306.7M821.8 1268.3V1310.7M822.8 1252.6V1341M823.9 1242.7V1307.5M824.9 1275.4V1316M826 1260.6V1309.9M827 1268V1335.4M828.1 1231.4V1303.6M829.1 1224.4V1306.8M830.2 1262.9V1315.4M831.2 1211.3V1307.5M832.3 1246.1V1332.2M833.3 1261.5V1296.8M834.4 1263.7V1301.5M835.4 1265.4V1323.4M836.5 1264.4V1312.4M862 1147.6V1222M876 1242V1294.8M877.1 1252.1V1326.4M878.2 1261.2V1319.5M879.2 1228.4V1332.6M880.3 1267.5V1342M881.4 1206V1303.6M882.5 1255.5V1308.6M883.5 1237.9V1301.6M884.6 1244.8V1312M885.7 1244.2V1292.3M886.8 1239.1V1307.9M887.8 1214.2V1319.7M888.9 1241.2V1316.4M890 1213.2V1338.7" stroke="#000" stroke-width="2.0" fill="none" stroke-linecap="butt"/>
<path d="M1267.4 883V913.1M1268.5 875.2V905.4M1269.5 876.5V911.1M1270.6 885.8V921.6M1271.6 871.4V914.3M1272.7 871.3V918M1273.7 873.8V899.7M1274.8 879.7V922M1275.8 865V911.2M1276.9 877.5V925.2M1278 882.7V910.2M1279 878.9V913.7M1280.1 868.1V915.9M1281.1 876V922.7M1282.2 882.9V918.7M1283.2 865V910.2M1284.3 875.7V915.3M1285.3 877.5V905.1M1286.4 893.5V918.7M1290.2 875V902M1291.2 877.4V909.1M1292.3 872.6V920M1293.3 886.4V914.6M1294.3 877.3V910.7M1295.3 886.2V917.9M1296.4 869.9V914.5M1297.4 862.2V907.6M1387.8 885.3V920M1388.9 876.8V921.4M1389.9 866V913.9M1391 871.7V920M1392 886V917.4M1393.1 867.8V902.5M1394.1 888.4V915.9M1395.2 866.6V917.9M1396.2 868.9V912.8M1397.3 873.5V925.3M1398.3 873.9V905.9M1399.4 879.2V907.9M1400.5 883.7V911.4M1401.5 878.1V915.7M1402.6 869.7V911.7M1403.6 876.8V906.3M1404.7 880.9V927.3M1405.7 869.4V911M1406.8 866V912.4M1407.8 886.2V913.8M1408.9 884.4V912.7M1389.5 812.3V948.4M1414.2 874.7V917M1415.2 867V924M1416.3 875.1V914.9M1417.3 878.4V904.7M1418.4 874.9V919.7M1419.4 887.8V915M1511.9 879.6V914.4M1512.9 881.8V919.8M1513.9 874.8V924.2M1515 872.8V918.9M1516 884.8V918.8M1517 864V914.5M1518 874.6V916.5M1519.1 871.2V918M1520.1 875V927.5M1521.1 879.8V919.5M1522.1 883.3V924.3M1523.1 866.2V918.5M1524.2 871V902M1525.2 876.7V923.8M1526.2 865.9V918.2M1527.2 864V904.6M1528.3 886.2V922M1529.3 879.5V916.5M1530.3 887.8V927.5M1530.3 771V875.6M1534.5 876.2V906.1M1535.6 879.5V936.4M1536.6 877.5V931.3M1537.7 885.3V917.9M1538.7 880.9V917.5M1539.8 891.4V917.1M1540.8 885.8V912.6M1541.9 887V942M1633.8 879.5V908.9M1634.9 864.7V909.8M1635.9 873.9V913.8M1637 858.5V910.4M1638.1 867.3V902.7M1639.1 870.7V911.1M1640.2 869.3V913.2M1641.2 863.8V905.3M1642.3 863.8V904.2M1643.4 858.5V904.3M1644.4 869.7V912.7M1645.5 879V908M1646.6 865.7V898.5M1647.6 873.2V907.2M1648.7 858.5V910.2M1649.7 885.3V914.2M1650.8 858.5V895.9M1651.9 874.6V917.7M1652.9 868.4V905.2M1654 869.4V909.2M1655.1 882.1V910.7M1656.1 871.3V916.2M1657.2 868.2V916.6M1658.2 858.5V910.9M1659.3 870V905.7M1660.4 869.6V914.8M1661.4 864.6V919.8M1662.5 872.3V900.8M1652 844.4V880M1656 900V947.5M1759.7 868V925.8M1760.7 859.6V910.6M1761.8 875.8V925.8M1762.8 864V899.3M1763.9 867V900.2M1764.9 864.9V920.8M1766 871.6V908.2M1767 878.2V910.5M1768.1 880.4V918M1769.1 889.6V921.4M1770.1 881.4V913.5M1771.2 872.1V925.8M1772.2 871V902.5M1773.3 869.4V917.1M1774.3 870.6V904.6M1775.4 871.9V902.7M1776.4 879.2V908.7" stroke="#000" stroke-width="2.0" fill="none" stroke-linecap="butt"/>
<path d="M1264.3 1048.5V1074.4M1265.4 1037.5V1083.2M1266.6 1046.4V1074.6M1267.7 1051.4V1100M1268.9 1060.4V1086M1270 1031.6V1088.3M1270 1089.6V1108.6M1271.1 1073.5V1096.6M1272.2 1060V1092.1M1273.3 1085.6V1108.3M1274.4 1065.6V1098.3M1275.5 1065.3V1101.6M1276.6 1077.2V1099.9M1277.7 1074.9V1098.1M1278.8 1075.7V1096.1M1279.9 1080.3V1108.6M1281 1077.9V1108.6M1282.5 1025V1095M1283 1074.7V1100M1284.1 1071.3V1094.4M1285.2 1066.8V1093.9M1286.4 1060.9V1095.3M1287.5 1060V1093.3M1289 1051.7V1121.6M1290 1071.2V1108.5M1291 1060.7V1104.6M1292 1052.8V1103.7M1293 1062.1V1122.4M1294 1059.1V1112.7M1295 1074.2V1106.3M1296 1058.5V1129.7M1297 1050V1099.5M1298 1061.4V1092.9M1387.4 1055V1084.2M1388.5 1067V1088.9M1389.6 1058.3V1081.2M1390.7 1070.6V1094M1391.8 1070V1091.5M1392.9 1068.7V1094.2M1394 1068.4V1111.2M1394 1082.2V1108.6M1395 1079.8V1110.3M1396 1087.7V1113M1397 1070.1V1099.4M1398 1079.3V1119.2M1399 1071.6V1110.7M1400 1072.2V1101.1M1401 1067.7V1111.5M1402 1065.4V1103.6M1403 1074.8V1115.6M1404 1065V1103.4M1404 1059.8V1098.5M1405 1060.8V1091.3M1406 1061.8V1087.8M1407 1060V1091.9M1408 1050V1081.8M1409 1058.8V1077.5M1410 1050V1077M1413.1 1056.3V1091.1M1414.1 1052.2V1097.2M1415.2 1047.8V1077M1416.2 1045.6V1080.6M1417.3 1059.3V1091.6M1418.4 1057.1V1100M1419.4 1052.9V1078.1M1510.2 1051.7V1100.4M1511.3 1046.9V1076.2M1512.4 1052.6V1088.4M1513.5 1059.1V1085.5M1514.6 1061.5V1094.5M1515.6 1056.6V1095.7M1516.7 1056.5V1097.1M1517.8 1067.8V1105M1518.9 1066.7V1105M1520 1042V1101M1520 1065.9V1095.7M1521.1 1065.6V1096.7M1522.2 1078.2V1102.6M1523.3 1064.7V1089.4M1524.4 1079V1107M1525.5 1067.9V1095M1526.5 1059.2V1097.9M1527.6 1058.4V1100.8M1528.7 1068.3V1095.6M1529.8 1058V1089.8M1530.9 1067.7V1100.1M1532 1059.5V1094.5M1532 1063.3V1088.4M1533.1 1050.7V1110.1M1534.2 1049.3V1073.5M1535.3 1053.4V1077.8M1536.4 1040.8V1079.5M1537.5 1048.4V1099.8M1538.6 1042.9V1076.1M1539.7 1045.6V1117M1540.8 1042.7V1073.6M1541.9 1032.2V1077.5M1534.5 1005V1131.8M1601.7 1022V1054.8M1602.7 1029.4V1063.8M1603.7 1034.1V1066.3M1604.6 1043.7V1075.3M1605.6 1050.9V1086M1632.5 1044.5V1098M1633.6 1045.8V1067.3M1634.6 1047.8V1073.8M1635.7 1040V1083.1M1636.8 1048.6V1082.5M1637.9 1059.3V1093.6M1638.9 1056.1V1093.4M1640 1059.4V1094.5M1640 1075.5V1099.1M1641.1 1064.7V1086.3M1642.1 1076.9V1097.9M1643.2 1065.1V1100M1644.3 1062.1V1088M1645.3 1064.8V1098.3M1646.4 1070.7V1099.5M1647.5 1063.6V1093.5M1648.5 1060.5V1086.8M1649.6 1060.4V1094.9M1650.7 1059.9V1089.8M1651.7 1061.8V1096.3M1652.8 1058V1096.2M1653.9 1063V1084.8M1654.9 1058V1093.8M1656 1059.3V1097.7M1656 1045.9V1091.7M1657.1 1059.5V1084.5M1658.2 1051.1V1072.8M1659.3 1044.6V1101.3M1660.3 1050.4V1080.4M1661.4 1051.3V1074.8M1662.5 1037.6V1064.6M1663.6 1036.2V1062.3M1725 1040.5V1090.1M1726.1 1054.5V1085.1M1727.2 1045.1V1091.3M1728.2 1049.7V1101.1M1729.3 1055.4V1106.7M1758 1030V1063.5M1759 1040.8V1069.1M1760 1044.3V1077M1761 1039.8V1069.9M1762 1045.4V1090M1763 1060.2V1084.2M1764 1052.6V1082.6M1764 1068.4V1100M1765.1 1060.4V1083.4M1766.2 1055V1095.3M1767.3 1058.7V1088.1M1768.4 1057.9V1100M1769.5 1061.3V1100M1770.6 1070.1V1093.1M1771.7 1057.8V1086.1M1772.8 1059.7V1094M1773.9 1055V1092.5M1775 1059.5V1081.4M1775 1038V1101.3M1776.1 1054.4V1080.4M1777.1 1055.1V1080.7M1778.2 1053.5V1090.3M1779.3 1053.3V1099M1780.3 1049.6V1097.8M1781.4 1044.8V1064.5M1845.3 1040.9V1073.9M1846.4 1027.5V1090.4M1847.5 1048.1V1083.7M1848.6 1050.3V1090.4M1849.7 1042.5V1077.8M1850.7 1042.7V1084.8M1851.8 1036.8V1087.3M1852.9 1033.3V1085.6M1854 1033V1082M1883.9 1048.7V1075.5M1885 1044.4V1090.7M1886.1 1049.9V1084.2M1887.1 1072.7V1113.2M1888.2 1085V1108.7M1889.3 1075.3V1100.1" stroke="#000" stroke-width="2.0" fill="none" stroke-linecap="butt"/>
<path d="M1236.8 1257.3V1299M1237.9 1231.8V1318.5M1239 1252.3V1313.7M1266.4 1253.2V1295M1267.5 1248.7V1305.6M1268.5 1264.8V1314.8M1269.6 1267.5V1306.4M1270.6 1269.5V1313.3M1271.7 1267.3V1313.1M1272.7 1272.1V1302.7M1273.8 1279V1316.6M1274.8 1269V1310.8M1275.9 1278.3V1323.4M1276.9 1270.6V1324.4M1278 1259.4V1316.2M1279 1274.1V1304.7M1280.1 1272.4V1308.3M1281.1 1264.5V1313.9M1282.2 1258.8V1289.5M1283.3 1273.4V1308.5M1284.3 1263.4V1315.3M1285.4 1258.8V1307.7M1286.4 1267V1303.4M1287.5 1253.1V1311.7M1288.5 1269.8V1327.9M1289.6 1264.7V1319.3M1290.6 1253.3V1299.5M1291.7 1274.3V1306.4M1292.7 1263.6V1294.6M1293.8 1254V1313.2M1294.8 1267.3V1321.5M1295.9 1261.3V1304.5M1296.9 1260V1319.4M1298 1265V1302.4M1388.2 1262V1309.5M1389.3 1271.4V1311.2M1390.3 1254.9V1302.4M1391.4 1272.9V1308.3M1392.4 1260.8V1299.7M1393.5 1259.1V1324.1M1394.6 1270.5V1305.9M1395.6 1267.4V1334.2M1396.7 1268.1V1320.2M1397.8 1230.8V1323.6M1398.8 1251.2V1307.5M1399.9 1272V1308.3M1400.9 1266.2V1302M1402 1251.6V1296.7M1403.1 1276.8V1313M1404.1 1268V1320.7M1405.2 1261.2V1297.7M1406.2 1259.2V1314.2M1407.3 1271.9V1306M1408.4 1269.3V1316.1M1409.4 1269.4V1306.4M1410.5 1268.9V1324.6M1411.5 1259.6V1317.4M1412.6 1254.1V1308.3M1413.7 1262.3V1314.1M1414.7 1260.9V1310.8M1415.8 1266.9V1310.4M1416.9 1238.7V1330.8M1417.9 1259.9V1295.4M1419 1272.5V1308.5M1420 1265.1V1330.5M1421.1 1272.4V1315.2M1510.2 1267.2V1306.4M1511.3 1268.3V1302.5M1512.3 1248V1307.5M1513.4 1248.3V1306.7M1514.4 1262.4V1310.4M1515.5 1271.1V1318.8M1516.5 1280.4V1315.3M1517.6 1268.3V1325.2M1518.7 1261.8V1308.3M1519.7 1251.6V1315.4M1520.8 1260.2V1308.8M1521.8 1257.6V1306.2M1522.9 1248.7V1311.3M1524 1278.1V1315.5M1525 1251V1330M1526.1 1249.4V1292.4M1527.1 1266.5V1323.8M1528.2 1260.9V1319.6M1529.2 1251.8V1305.8M1530.3 1255.3V1296.9M1531.4 1262.3V1317.9M1532.4 1255.1V1302.4M1533.5 1239.2V1298.3M1534.5 1261.7V1310.6M1535.6 1242.9V1284.1M1536.7 1254.2V1306.7M1537.7 1262.8V1314.5M1538.8 1249V1312.2M1539.8 1252.9V1295.7M1540.9 1252.1V1294M1541.9 1239.2V1298.4M1543 1265.9V1311.7M1510.7 1300V1344M1603.4 1256.7V1317M1604.7 1254.6V1306.5M1606 1248.5V1309.3M1633.8 1241V1300.2M1634.8 1261.7V1304.9M1635.9 1252.2V1291.8M1636.9 1256.4V1303.8M1638 1271.1V1323.5M1639 1255V1296M1640.1 1253.1V1303.3M1641.1 1270.4V1309.6M1642.1 1265.5V1326.7M1643.2 1254.7V1309.8M1644.2 1258.6V1303.1M1645.3 1258.1V1310M1646.3 1259.4V1313.7M1647.4 1259.7V1315.5M1648.4 1268.7V1324.5M1649.4 1259.5V1314M1650.5 1259.4V1305.7M1651.5 1273.2V1307.7M1652.6 1267.4V1306.3M1653.6 1261.3V1295.5M1654.7 1252.8V1308.4M1655.7 1251.3V1296.9M1656.8 1260.6V1296.9M1657.8 1256.4V1301.3M1658.8 1259.4V1292.4M1659.9 1241V1301.1M1660.9 1241V1300.8M1662 1265.6V1300.5M1663 1261.1V1298.6M1664.1 1258.2V1310.3M1665.1 1274.2V1308.9M1725 1277.1V1316.4M1726 1289.5V1340.1M1726.9 1251.8V1323.1M1727.9 1297.3V1341.9M1728.8 1264.5V1309.3M1729.8 1252.6V1319.3M1759 1251.2V1341.9M1760.1 1265.3V1303.9M1761.1 1263.6V1319.1M1762.2 1242.7V1338.1M1763.3 1258.2V1327.7M1764.3 1257.4V1317.4M1765.4 1254.7V1327.1M1766.5 1279.1V1317.4M1767.5 1256.2V1309.2M1768.6 1248.3V1321.4M1769.7 1276.8V1318.6M1770.7 1242V1306M1771.8 1258.3V1296.1M1772.9 1265.3V1311.1M1773.9 1266.6V1316.3M1775 1266.4V1320.1M1776.1 1257.8V1317.2M1777.1 1265.5V1323.7M1778.2 1265.2V1305.9M1779.3 1269.1V1308.1M1780.3 1234.4V1333.6M1781.4 1255.2V1325M1846.6 1267.3V1316M1847.7 1209.5V1300.4M1848.8 1265.7V1312.6M1849.8 1249.4V1294.9M1850.9 1265.5V1299M1852 1266.8V1294.9M1853 1230V1335.4M1854.1 1260.6V1337.3M1855.2 1272.3V1344M1885 1241.1V1312.1M1886.1 1258.5V1332.7M1887.2 1216.5V1329.6M1888.2 1267.6V1311.7M1889.3 1217.8V1344M1890.4 1208.4V1339.6M1891.5 1234.4V1311.7" stroke="#000" stroke-width="2.0" fill="none" stroke-linecap="butt"/>
<path d="M124 0.8H975.8V591.9H124ZM124 197.7H975.8M124 394.8H975.8M215.8 0.8v7.8M215.8 197.7v-7.8M307.6 0.8v15.8M307.6 197.7v-15.8M399.4 0.8v7.8M399.4 197.7v-7.8M491.2 0.8v15.8M491.2 197.7v-15.8M583 0.8v7.8M583 197.7v-7.8M674.8 0.8v15.8M674.8 197.7v-15.8M766.6 0.8v7.8M766.6 197.7v-7.8M858.4 0.8v15.8M858.4 197.7v-15.8M950.2 0.8v7.8M950.2 197.7v-7.8M215.8 197.7v7.8M215.8 394.8v-7.8M307.6 197.7v15.8M307.6 394.8v-15.8M399.4 197.7v7.8M399.4 394.8v-7.8M491.2 197.7v15.8M491.2 394.8v-15.8M583 197.7v7.8M583 394.8v-7.8M674.8 197.7v15.8M674.8 394.8v-15.8M766.6 197.7v7.8M766.6 394.8v-7.8M858.4 197.7v15.8M858.4 394.8v-15.8M950.2 197.7v7.8M950.2 394.8v-7.8M215.8 394.8v7.8M215.8 591.9v-7.8M307.6 394.8v15.8M307.6 591.9v-15.8M399.4 394.8v7.8M399.4 591.9v-7.8M491.2 394.8v15.8M491.2 591.9v-15.8M583 394.8v7.8M583 591.9v-7.8M674.8 394.8v15.8M674.8 591.9v-15.8M766.6 394.8v7.8M766.6 591.9v-7.8M858.4 394.8v15.8M858.4 591.9v-15.8M950.2 394.8v7.8M950.2 591.9v-7.8M124 189.4h15.8M975.8 189.4h-15.8M124 174.3h7.8M975.8 174.3h-7.8M124 159.2h7.8M975.8 159.2h-7.8M124 144h7.8M975.8 144h-7.8M124 128.9h7.8M975.8 128.9h-7.8M124 113.8h15.8M975.8 113.8h-15.8M124 98.7h7.8M975.8 98.7h-7.8M124 83.6h7.8M975.8 83.6h-7.8M124 68.4h7.8M975.8 68.4h-7.8M124 53.3h7.8M975.8 53.3h-7.8M124 38.2h15.8M975.8 38.2h-15.8M124 23.1h7.8M975.8 23.1h-7.8M124 8h7.8M975.8 8h-7.8M124 393.2h15.8M975.8 393.2h-15.8M124 380.9h7.8M975.8 380.9h-7.8M124 368.6h7.8M975.8 368.6h-7.8M124 356.3h7.8M975.8 356.3h-7.8M124 344h7.8M975.8 344h-7.8M124 331.7h15.8M975.8 331.7h-15.8M124 319.4h7.8M975.8 319.4h-7.8M124 307.1h7.8M975.8 307.1h-7.8M124 294.8h7.8M975.8 294.8h-7.8M124 282.5h7.8M975.8 282.5h-7.8M124 270.2h15.8M975.8 270.2h-15.8M124 258h7.8M975.8 258h-7.8M124 245.7h7.8M975.8 245.7h-7.8M124 233.4h7.8M975.8 233.4h-7.8M124 221.1h7.8M975.8 221.1h-7.8M124 208.8h15.8M975.8 208.8h-15.8M124 590h15.8M975.8 590h-15.8M124 579.1h7.8M975.8 579.1h-7.8M124 568.3h7.8M975.8 568.3h-7.8M124 557.5h7.8M975.8 557.5h-7.8M124 546.6h7.8M975.8 546.6h-7.8M124 535.8h15.8M975.8 535.8h-15.8M124 524.9h7.8M975.8 524.9h-7.8M124 514h7.8M975.8 514h-7.8M124 503.2h7.8M975.8 503.2h-7.8M124 492.4h7.8M975.8 492.4h-7.8M124 481.5h15.8M975.8 481.5h-15.8M124 470.6h7.8M975.8 470.6h-7.8M124 459.8h7.8M975.8 459.8h-7.8M124 449h7.8M975.8 449h-7.8M124 438.1h7.8M975.8 438.1h-7.8M124 427.2h15.8M975.8 427.2h-15.8M124 416.4h7.8M975.8 416.4h-7.8M124 405.6h7.8M975.8 405.6h-7.8" stroke="#000" stroke-width="2.6" fill="none" stroke-linecap="round"/>
<path d="M1164.5 0.8H2016.6V591.9H1164.5ZM1164.5 197.7H2016.6M1164.5 394.8H2016.6M1178.4 0.8v15.8M1178.4 197.7v-15.8M1270.2 0.8v7.8M1270.2 197.7v-7.8M1362 0.8v15.8M1362 197.7v-15.8M1453.8 0.8v7.8M1453.8 197.7v-7.8M1545.6 0.8v15.8M1545.6 197.7v-15.8M1637.4 0.8v7.8M1637.4 197.7v-7.8M1729.2 0.8v15.8M1729.2 197.7v-15.8M1821 0.8v7.8M1821 197.7v-7.8M1912.8 0.8v15.8M1912.8 197.7v-15.8M2004.6 0.8v7.8M2004.6 197.7v-7.8M1178.4 197.7v15.8M1178.4 394.8v-15.8M1270.2 197.7v7.8M1270.2 394.8v-7.8M1362 197.7v15.8M1362 394.8v-15.8M1453.8 197.7v7.8M1453.8 394.8v-7.8M1545.6 197.7v15.8M1545.6 394.8v-15.8M1637.4 197.7v7.8M1637.4 394.8v-7.8M1729.2 197.7v15.8M1729.2 394.8v-15.8M1821 197.7v7.8M1821 394.8v-7.8M1912.8 197.7v15.8M1912.8 394.8v-15.8M2004.6 197.7v7.8M2004.6 394.8v-7.8M1178.4 394.8v15.8M1178.4 591.9v-15.8M1270.2 394.8v7.8M1270.2 591.9v-7.8M1362 394.8v15.8M1362 591.9v-15.8M1453.8 394.8v7.8M1453.8 591.9v-7.8M1545.6 394.8v15.8M1545.6 591.9v-15.8M1637.4 394.8v7.8M1637.4 591.9v-7.8M1729.2 394.8v15.8M1729.2 591.9v-15.8M1821 394.8v7.8M1821 591.9v-7.8M1912.8 394.8v15.8M1912.8 591.9v-15.8M2004.6 394.8v7.8M2004.6 591.9v-7.8M1164.5 191.6h15.8M2016.6 191.6h-15.8M1164.5 180.7h7.8M2016.6 180.7h-7.8M1164.5 169.8h7.8M2016.6 169.8h-7.8M1164.5 158.9h7.8M2016.6 158.9h-7.8M1164.5 148h7.8M2016.6 148h-7.8M1164.5 137.1h15.8M2016.6 137.1h-15.8M1164.5 126.2h7.8M2016.6 126.2h-7.8M1164.5 115.3h7.8M2016.6 115.3h-7.8M1164.5 104.4h7.8M2016.6 104.4h-7.8M1164.5 93.5h7.8M2016.6 93.5h-7.8M1164.5 82.6h15.8M2016.6 82.6h-15.8M1164.5 71.7h7.8M2016.6 71.7h-7.8M1164.5 60.8h7.8M2016.6 60.8h-7.8M1164.5 49.9h7.8M2016.6 49.9h-7.8M1164.5 39h7.8M2016.6 39h-7.8M1164.5 28.1h15.8M2016.6 28.1h-15.8M1164.5 17.2h7.8M2016.6 17.2h-7.8M1164.5 6.3h7.8M2016.6 6.3h-7.8M1164.5 393.2h15.8M2016.6 393.2h-15.8M1164.5 380.9h7.8M2016.6 380.9h-7.8M1164.5 368.6h7.8M2016.6 368.6h-7.8M1164.5 356.3h7.8M2016.6 356.3h-7.8M1164.5 344h7.8M2016.6 344h-7.8M1164.5 331.7h15.8M2016.6 331.7h-15.8M1164.5 319.4h7.8M2016.6 319.4h-7.8M1164.5 307.1h7.8M2016.6 307.1h-7.8M1164.5 294.8h7.8M2016.6 294.8h-7.8M1164.5 282.5h7.8M2016.6 282.5h-7.8M1164.5 270.2h15.8M2016.6 270.2h-15.8M1164.5 258h7.8M2016.6 258h-7.8M1164.5 245.7h7.8M2016.6 245.7h-7.8M1164.5 233.4h7.8M2016.6 233.4h-7.8M1164.5 221.1h7.8M2016.6 221.1h-7.8M1164.5 208.8h15.8M2016.6 208.8h-15.8M1164.5 590h15.8M2016.6 590h-15.8M1164.5 579.1h7.8M2016.6 579.1h-7.8M1164.5 568.3h7.8M2016.6 568.3h-7.8M1164.5 557.5h7.8M2016.6 557.5h-7.8M1164.5 546.6h7.8M2016.6 546.6h-7.8M1164.5 535.8h15.8M2016.6 535.8h-15.8M1164.5 524.9h7.8M2016.6 524.9h-7.8M1164.5 514h7.8M2016.6 514h-7.8M1164.5 503.2h7.8M2016.6 503.2h-7.8M1164.5 492.4h7.8M2016.6 492.4h-7.8M1164.5 481.5h15.8M2016.6 481.5h-15.8M1164.5 470.6h7.8M2016.6 470.6h-7.8M1164.5 459.8h7.8M2016.6 459.8h-7.8M1164.5 449h7.8M2016.6 449h-7.8M1164.5 438.1h7.8M2016.6 438.1h-7.8M1164.5 427.2h15.8M2016.6 427.2h-15.8M1164.5 416.4h7.8M2016.6 416.4h-7.8M1164.5 405.6h7.8M2016.6 405.6h-7.8" stroke="#000" stroke-width="2.6" fill="none" stroke-linecap="round"/>
<path d="M123.8 751.4H976V1344.4H123.8ZM123.8 949.2H976M123.8 1146.7H976M138.4 751.4v15.8M138.4 949.2v-15.8M243.1 751.4v7.8M243.1 949.2v-7.8M347.8 751.4v15.8M347.8 949.2v-15.8M452.5 751.4v7.8M452.5 949.2v-7.8M557.2 751.4v15.8M557.2 949.2v-15.8M661.9 751.4v7.8M661.9 949.2v-7.8M766.6 751.4v15.8M766.6 949.2v-15.8M871.3 751.4v7.8M871.3 949.2v-7.8M138.4 949.2v15.8M138.4 1146.7v-15.8M243.1 949.2v7.8M243.1 1146.7v-7.8M347.8 949.2v15.8M347.8 1146.7v-15.8M452.5 949.2v7.8M452.5 1146.7v-7.8M557.2 949.2v15.8M557.2 1146.7v-15.8M661.9 949.2v7.8M661.9 1146.7v-7.8M766.6 949.2v15.8M766.6 1146.7v-15.8M871.3 949.2v7.8M871.3 1146.7v-7.8M138.4 1146.7v15.8M138.4 1344.4v-15.8M243.1 1146.7v7.8M243.1 1344.4v-7.8M347.8 1146.7v15.8M347.8 1344.4v-15.8M452.5 1146.7v7.8M452.5 1344.4v-7.8M557.2 1146.7v15.8M557.2 1344.4v-15.8M661.9 1146.7v7.8M661.9 1344.4v-7.8M766.6 1146.7v15.8M766.6 1344.4v-15.8M871.3 1146.7v7.8M871.3 1344.4v-7.8M123.8 939.8h15.8M976 939.8h-15.8M123.8 920.9h7.8M976 920.9h-7.8M123.8 902.1h7.8M976 902.1h-7.8M123.8 883.2h7.8M976 883.2h-7.8M123.8 864.4h7.8M976 864.4h-7.8M123.8 845.5h15.8M976 845.5h-15.8M123.8 826.6h7.8M976 826.6h-7.8M123.8 807.8h7.8M976 807.8h-7.8M123.8 788.9h7.8M976 788.9h-7.8M123.8 770.1h7.8M976 770.1h-7.8M123.8 1135.9h7.8M976 1135.9h-7.8M123.8 1124.9h15.8M976 1124.9h-15.8M123.8 1113.9h7.8M976 1113.9h-7.8M123.8 1102.9h7.8M976 1102.9h-7.8M123.8 1091.9h7.8M976 1091.9h-7.8M123.8 1080.9h7.8M976 1080.9h-7.8M123.8 1069.9h15.8M976 1069.9h-15.8M123.8 1058.9h7.8M976 1058.9h-7.8M123.8 1047.9h7.8M976 1047.9h-7.8M123.8 1036.9h7.8M976 1036.9h-7.8M123.8 1025.9h7.8M976 1025.9h-7.8M123.8 1014.9h15.8M976 1014.9h-15.8M123.8 1003.9h7.8M976 1003.9h-7.8M123.8 992.9h7.8M976 992.9h-7.8M123.8 981.9h7.8M976 981.9h-7.8M123.8 970.9h7.8M976 970.9h-7.8M123.8 959.9h15.8M976 959.9h-15.8M123.8 1339h15.8M976 1339h-15.8M123.8 1328h7.8M976 1328h-7.8M123.8 1317.1h7.8M976 1317.1h-7.8M123.8 1306.1h7.8M976 1306.1h-7.8M123.8 1295.2h7.8M976 1295.2h-7.8M123.8 1284.2h15.8M976 1284.2h-15.8M123.8 1273.2h7.8M976 1273.2h-7.8M123.8 1262.3h7.8M976 1262.3h-7.8M123.8 1251.3h7.8M976 1251.3h-7.8M123.8 1240.4h7.8M976 1240.4h-7.8M123.8 1229.4h15.8M976 1229.4h-15.8M123.8 1218.4h7.8M976 1218.4h-7.8M123.8 1207.5h7.8M976 1207.5h-7.8M123.8 1196.5h7.8M976 1196.5h-7.8M123.8 1185.6h7.8M976 1185.6h-7.8M123.8 1174.6h15.8M976 1174.6h-15.8M123.8 1163.6h7.8M976 1163.6h-7.8M123.8 1152.7h7.8M976 1152.7h-7.8" stroke="#000" stroke-width="2.6" fill="none" stroke-linecap="round"/>
<path d="M1164.2 751.4H2016.5V1344.4H1164.2ZM1164.2 949.2H2016.5M1164.2 1146.7H2016.5M1206.9 751.4v7.8M1206.9 949.2v-7.8M1249.6 751.4v7.8M1249.6 949.2v-7.8M1292.4 751.4v7.8M1292.4 949.2v-7.8M1335.1 751.4v7.8M1335.1 949.2v-7.8M1377.8 751.4v15.8M1377.8 949.2v-15.8M1420.5 751.4v7.8M1420.5 949.2v-7.8M1463.2 751.4v7.8M1463.2 949.2v-7.8M1506 751.4v7.8M1506 949.2v-7.8M1548.7 751.4v7.8M1548.7 949.2v-7.8M1591.4 751.4v15.8M1591.4 949.2v-15.8M1634.1 751.4v7.8M1634.1 949.2v-7.8M1676.8 751.4v7.8M1676.8 949.2v-7.8M1719.6 751.4v7.8M1719.6 949.2v-7.8M1762.3 751.4v7.8M1762.3 949.2v-7.8M1805 751.4v15.8M1805 949.2v-15.8M1847.7 751.4v7.8M1847.7 949.2v-7.8M1890.4 751.4v7.8M1890.4 949.2v-7.8M1933.2 751.4v7.8M1933.2 949.2v-7.8M1975.9 751.4v7.8M1975.9 949.2v-7.8M1206.9 949.2v7.8M1206.9 1146.7v-7.8M1249.6 949.2v7.8M1249.6 1146.7v-7.8M1292.4 949.2v7.8M1292.4 1146.7v-7.8M1335.1 949.2v7.8M1335.1 1146.7v-7.8M1377.8 949.2v15.8M1377.8 1146.7v-15.8M1420.5 949.2v7.8M1420.5 1146.7v-7.8M1463.2 949.2v7.8M1463.2 1146.7v-7.8M1506 949.2v7.8M1506 1146.7v-7.8M1548.7 949.2v7.8M1548.7 1146.7v-7.8M1591.4 949.2v15.8M1591.4 1146.7v-15.8M1634.1 949.2v7.8M1634.1 1146.7v-7.8M1676.8 949.2v7.8M1676.8 1146.7v-7.8M1719.6 949.2v7.8M1719.6 1146.7v-7.8M1762.3 949.2v7.8M1762.3 1146.7v-7.8M1805 949.2v15.8M1805 1146.7v-15.8M1847.7 949.2v7.8M1847.7 1146.7v-7.8M1890.4 949.2v7.8M1890.4 1146.7v-7.8M1933.2 949.2v7.8M1933.2 1146.7v-7.8M1975.9 949.2v7.8M1975.9 1146.7v-7.8M1206.9 1146.7v7.8M1206.9 1344.4v-7.8M1249.6 1146.7v7.8M1249.6 1344.4v-7.8M1292.4 1146.7v7.8M1292.4 1344.4v-7.8M1335.1 1146.7v7.8M1335.1 1344.4v-7.8M1377.8 1146.7v15.8M1377.8 1344.4v-15.8M1420.5 1146.7v7.8M1420.5 1344.4v-7.8M1463.2 1146.7v7.8M1463.2 1344.4v-7.8M1506 1146.7v7.8M1506 1344.4v-7.8M1548.7 1146.7v7.8M1548.7 1344.4v-7.8M1591.4 1146.7v15.8M1591.4 1344.4v-15.8M1634.1 1146.7v7.8M1634.1 1344.4v-7.8M1676.8 1146.7v7.8M1676.8 1344.4v-7.8M1719.6 1146.7v7.8M1719.6 1344.4v-7.8M1762.3 1146.7v7.8M1762.3 1344.4v-7.8M1805 1146.7v15.8M1805 1344.4v-15.8M1847.7 1146.7v7.8M1847.7 1344.4v-7.8M1890.4 1146.7v7.8M1890.4 1344.4v-7.8M1933.2 1146.7v7.8M1933.2 1344.4v-7.8M1975.9 1146.7v7.8M1975.9 1344.4v-7.8M1164.2 939.8h15.8M2016.5 939.8h-15.8M1164.2 920.9h7.8M2016.5 920.9h-7.8M1164.2 902.1h7.8M2016.5 902.1h-7.8M1164.2 883.2h7.8M2016.5 883.2h-7.8M1164.2 864.4h7.8M2016.5 864.4h-7.8M1164.2 845.5h15.8M2016.5 845.5h-15.8M1164.2 826.6h7.8M2016.5 826.6h-7.8M1164.2 807.8h7.8M2016.5 807.8h-7.8M1164.2 788.9h7.8M2016.5 788.9h-7.8M1164.2 770.1h7.8M2016.5 770.1h-7.8M1164.2 1135.9h7.8M2016.5 1135.9h-7.8M1164.2 1124.9h15.8M2016.5 1124.9h-15.8M1164.2 1113.9h7.8M2016.5 1113.9h-7.8M1164.2 1102.9h7.8M2016.5 1102.9h-7.8M1164.2 1091.9h7.8M2016.5 1091.9h-7.8M1164.2 1080.9h7.8M2016.5 1080.9h-7.8M1164.2 1069.9h15.8M2016.5 1069.9h-15.8M1164.2 1058.9h7.8M2016.5 1058.9h-7.8M1164.2 1047.9h7.8M2016.5 1047.9h-7.8M1164.2 1036.9h7.8M2016.5 1036.9h-7.8M1164.2 1025.9h7.8M2016.5 1025.9h-7.8M1164.2 1014.9h15.8M2016.5 1014.9h-15.8M1164.2 1003.9h7.8M2016.5 1003.9h-7.8M1164.2 992.9h7.8M2016.5 992.9h-7.8M1164.2 981.9h7.8M2016.5 981.9h-7.8M1164.2 970.9h7.8M2016.5 970.9h-7.8M1164.2 959.9h15.8M2016.5 959.9h-15.8M1164.2 1339h15.8M2016.5 1339h-15.8M1164.2 1328h7.8M2016.5 1328h-7.8M1164.2 1317.1h7.8M2016.5 1317.1h-7.8M1164.2 1306.1h7.8M2016.5 1306.1h-7.8M1164.2 1295.2h7.8M2016.5 1295.2h-7.8M1164.2 1284.2h15.8M2016.5 1284.2h-15.8M1164.2 1273.2h7.8M2016.5 1273.2h-7.8M1164.2 1262.3h7.8M2016.5 1262.3h-7.8M1164.2 1251.3h7.8M2016.5 1251.3h-7.8M1164.2 1240.4h7.8M2016.5 1240.4h-7.8M1164.2 1229.4h15.8M2016.5 1229.4h-15.8M1164.2 1218.4h7.8M2016.5 1218.4h-7.8M1164.2 1207.5h7.8M2016.5 1207.5h-7.8M1164.2 1196.5h7.8M2016.5 1196.5h-7.8M1164.2 1185.6h7.8M2016.5 1185.6h-7.8M1164.2 1174.6h15.8M2016.5 1174.6h-15.8M1164.2 1163.6h7.8M2016.5 1163.6h-7.8M1164.2 1152.7h7.8M2016.5 1152.7h-7.8" stroke="#000" stroke-width="2.6" fill="none" stroke-linecap="round"/>
<g stroke="#000" stroke-width="0.6" stroke-linejoin="round">
<text transform="translate(97.8 200.4) scale(1 1.045)" font-size="40" text-anchor="end">0</text>
<text transform="translate(97.8 124.8) scale(1 1.045)" font-size="40" text-anchor="end">1</text>
<text transform="translate(97.8 49.2) scale(1 1.045)" font-size="40" text-anchor="end">2</text>
<text transform="translate(97.8 404.2) scale(1 1.045)" font-size="40" text-anchor="end">0</text>
<text transform="translate(95.6 342.7) scale(1 1.045)" font-size="40" text-anchor="end">50</text>
<text transform="translate(93.4 281.2) scale(1 1.045)" font-size="40" text-anchor="end">100</text>
<text transform="translate(93.4 219.8) scale(1 1.045)" font-size="40" text-anchor="end">150</text>
<text transform="translate(97.8 601) scale(1 1.045)" font-size="40" text-anchor="end">0</text>
<text transform="translate(97.8 546.8) scale(1 1.045)" font-size="40" text-anchor="end">5</text>
<text transform="translate(95.6 492.5) scale(1 1.045)" font-size="40" text-anchor="end">10</text>
<text transform="translate(95.6 438.2) scale(1 1.045)" font-size="40" text-anchor="end">15</text>
<text transform="translate(124 635.3) scale(1 1.045)" font-size="40" text-anchor="middle">0</text>
<text transform="translate(301.4 635.3) scale(1 1.045)" font-size="40" text-anchor="middle">2×10<tspan dy="-11.8" font-size="24">4</tspan></text>
<text transform="translate(485 635.3) scale(1 1.045)" font-size="40" text-anchor="middle">4×10<tspan dy="-11.8" font-size="24">4</tspan></text>
<text transform="translate(668.6 635.3) scale(1 1.045)" font-size="40" text-anchor="middle">6×10<tspan dy="-11.8" font-size="24">4</tspan></text>
<text transform="translate(852.2 635.3) scale(1 1.045)" font-size="40" text-anchor="middle">8×10<tspan dy="-11.8" font-size="24">4</tspan></text>
<text x="472.3" y="681.3" font-size="40">Time (s)</text>
<text transform="translate(28.3 489.6) rotate(-90)" font-size="40">Count–Rate (cts s<tspan dy="-12.3" font-size="24">−1</tspan><tspan dy="12.3">)</tspan></text>
<text x="421.6" y="50.4" font-size="40">SXT (0.3–10 keV)</text>
<text x="409.5" y="257.6" font-size="40">LAXPC (3–80 keV)</text>
<text x="372.9" y="460.7" font-size="40">CZTI (30–50 keV)</text>
<text transform="translate(1138.3 202.6) scale(1 1.045)" font-size="40" text-anchor="end">0</text>
<text transform="translate(1138.3 148.1) scale(1 1.045)" font-size="40" text-anchor="end">1</text>
<text transform="translate(1138.3 93.6) scale(1 1.045)" font-size="40" text-anchor="end">2</text>
<text transform="translate(1138.3 39.1) scale(1 1.045)" font-size="40" text-anchor="end">3</text>
<text transform="translate(1138.3 404.2) scale(1 1.045)" font-size="40" text-anchor="end">0</text>
<text transform="translate(1136.1 342.7) scale(1 1.045)" font-size="40" text-anchor="end">50</text>
<text transform="translate(1133.9 281.2) scale(1 1.045)" font-size="40" text-anchor="end">100</text>
<text transform="translate(1133.9 219.8) scale(1 1.045)" font-size="40" text-anchor="end">150</text>
<text transform="translate(1138.3 601) scale(1 1.045)" font-size="40" text-anchor="end">0</text>
<text transform="translate(1138.3 546.8) scale(1 1.045)" font-size="40" text-anchor="end">5</text>
<text transform="translate(1136.1 492.5) scale(1 1.045)" font-size="40" text-anchor="end">10</text>
<text transform="translate(1136.1 438.2) scale(1 1.045)" font-size="40" text-anchor="end">15</text>
<text transform="translate(1177.1 635.3) scale(1 1.045)" font-size="40" text-anchor="middle">0</text>
<text transform="translate(1354.8 635.3) scale(1 1.045)" font-size="40" text-anchor="middle">2×10<tspan dy="-11.8" font-size="24">4</tspan></text>
<text transform="translate(1538.4 635.3) scale(1 1.045)" font-size="40" text-anchor="middle">4×10<tspan dy="-11.8" font-size="24">4</tspan></text>
<text transform="translate(1722 635.3) scale(1 1.045)" font-size="40" text-anchor="middle">6×10<tspan dy="-11.8" font-size="24">4</tspan></text>
<text transform="translate(1905.6 635.3) scale(1 1.045)" font-size="40" text-anchor="middle">8×10<tspan dy="-11.8" font-size="24">4</tspan></text>
<text x="1513.5" y="681.3" font-size="40">Time (s)</text>
<text transform="translate(1068.9 489.6) rotate(-90)" font-size="40">Count–Rate (cts s<tspan dy="-12.3" font-size="24">−1</tspan><tspan dy="12.3">)</tspan></text>
<text x="1475" y="67.3" font-size="40">SXT (0.3–10 keV)</text>
<text x="1463.7" y="257.4" font-size="40">LAXPC (3–80 keV)</text>
<text x="1472.2" y="460.6" font-size="40">CZTI (30–50 keV)</text>
<text transform="translate(97.6 950.8) scale(1 1.045)" font-size="40" text-anchor="end">0</text>
<text transform="translate(97.6 856.5) scale(1 1.045)" font-size="40" text-anchor="end">5</text>
<text transform="translate(95.4 762.2) scale(1 1.045)" font-size="40" text-anchor="end">10</text>
<text transform="translate(97.6 1135.9) scale(1 1.045)" font-size="40" text-anchor="end">0</text>
<text transform="translate(97.6 1080.9) scale(1 1.045)" font-size="40" text-anchor="end">5</text>
<text transform="translate(95.4 1025.9) scale(1 1.045)" font-size="40" text-anchor="end">10</text>
<text transform="translate(95.4 970.9) scale(1 1.045)" font-size="40" text-anchor="end">15</text>
<text transform="translate(97.6 1350) scale(1 1.045)" font-size="40" text-anchor="end">0</text>
<text transform="translate(95.4 1295.2) scale(1 1.045)" font-size="40" text-anchor="end">10</text>
<text transform="translate(95.4 1240.4) scale(1 1.045)" font-size="40" text-anchor="end">20</text>
<text transform="translate(95.4 1185.6) scale(1 1.045)" font-size="40" text-anchor="end">30</text>
<text transform="translate(136.8 1387.8) scale(1 1.045)" font-size="40" text-anchor="middle">0</text>
<text transform="translate(340.4 1387.8) scale(1 1.045)" font-size="40" text-anchor="middle">2×10<tspan dy="-11.8" font-size="24">4</tspan></text>
<text transform="translate(549.8 1387.8) scale(1 1.045)" font-size="40" text-anchor="middle">4×10<tspan dy="-11.8" font-size="24">4</tspan></text>
<text transform="translate(759.2 1387.8) scale(1 1.045)" font-size="40" text-anchor="middle">6×10<tspan dy="-11.8" font-size="24">4</tspan></text>
<text x="472.1" y="1433.8" font-size="40">Time (s)</text>
<text transform="translate(28.3 1241.6) rotate(-90)" font-size="40">Count–Rate (cts s<tspan dy="-12.3" font-size="24">−1</tspan><tspan dy="12.3">)</tspan></text>
<text x="530.8" y="819" font-size="40">LE (1–10 keV)</text>
<text x="514.9" y="1004.7" font-size="40">ME (10–30 keV)</text>
<text x="515.4" y="1196.6" font-size="40">HE (30–60 keV)</text>
<text transform="translate(1138 950.8) scale(1 1.045)" font-size="40" text-anchor="end">0</text>
<text transform="translate(1138 856.5) scale(1 1.045)" font-size="40" text-anchor="end">5</text>
<text transform="translate(1135.8 762.2) scale(1 1.045)" font-size="40" text-anchor="end">10</text>
<text transform="translate(1138 1135.9) scale(1 1.045)" font-size="40" text-anchor="end">0</text>
<text transform="translate(1138 1080.9) scale(1 1.045)" font-size="40" text-anchor="end">5</text>
<text transform="translate(1135.8 1025.9) scale(1 1.045)" font-size="40" text-anchor="end">10</text>
<text transform="translate(1135.8 970.9) scale(1 1.045)" font-size="40" text-anchor="end">15</text>
<text transform="translate(1138 1350) scale(1 1.045)" font-size="40" text-anchor="end">0</text>
<text transform="translate(1135.8 1295.2) scale(1 1.045)" font-size="40" text-anchor="end">10</text>
<text transform="translate(1135.8 1240.4) scale(1 1.045)" font-size="40" text-anchor="end">20</text>
<text transform="translate(1135.8 1185.6) scale(1 1.045)" font-size="40" text-anchor="end">30</text>
<text transform="translate(1163.4 1387.8) scale(1 1.045)" font-size="40" text-anchor="middle">0</text>
<text transform="translate(1376.8 1387.8) scale(1 1.045)" font-size="40" text-anchor="middle">10<tspan dy="-11.8" font-size="24">4</tspan></text>
<text transform="translate(1584.9 1387.8) scale(1 1.045)" font-size="40" text-anchor="middle">2×10<tspan dy="-11.8" font-size="24">4</tspan></text>
<text transform="translate(1798.5 1387.8) scale(1 1.045)" font-size="40" text-anchor="middle">3×10<tspan dy="-11.8" font-size="24">4</tspan></text>
<text x="1513.2" y="1433.8" font-size="40">Time (s)</text>
<text transform="translate(1068.9 1241.6) rotate(-90)" font-size="40">Count–Rate (cts s<tspan dy="-12.3" font-size="24">−1</tspan><tspan dy="12.3">)</tspan></text>
<text x="1545.1" y="819" font-size="40">LE (1–10 keV)</text>
<text x="1529.1" y="1004.7" font-size="40">ME (10–30 keV)</text>
<text x="1536" y="1197" font-size="40">HE(30–60 keV)</text>
</g>
</svg>
</body></html>
